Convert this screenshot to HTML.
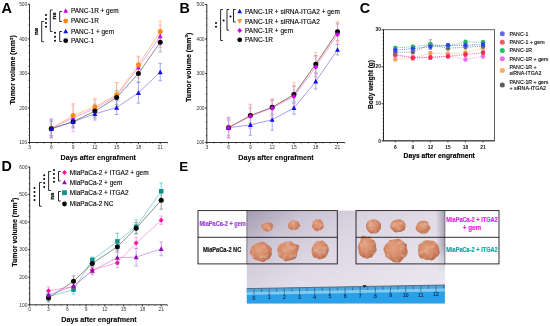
<!DOCTYPE html>
<html><head><meta charset="utf-8"><style>
html,body{margin:0;padding:0;width:550px;height:326px;overflow:hidden;background:#fff;}
svg text{font-family:"Liberation Sans", sans-serif;}
svg{will-change:transform;}
</style></head><body>
<svg width="550" height="326" viewBox="0 0 550 326" style="position:absolute;left:0;top:0;font-family:&quot;Liberation Sans&quot;, sans-serif">
<rect width="550" height="326" fill="#fff"/>
<text x="1.4" y="13" font-size="14.5" text-anchor="start" font-weight="bold" fill="#000" >A</text>
<text x="179.5" y="12.8" font-size="14.3" text-anchor="start" font-weight="bold" fill="#000" >B</text>
<text x="359.8" y="12.9" font-size="14.3" text-anchor="start" font-weight="bold" fill="#000" >C</text>
<text x="1.5" y="171.1" font-size="14.3" text-anchor="start" font-weight="bold" fill="#000" >D</text>
<text x="179.3" y="171.3" font-size="13.4" text-anchor="start" font-weight="bold" fill="#000" >E</text>
<line x1="29.5" y1="4.3" x2="29.5" y2="142.5" stroke="#1a1a1a" stroke-width="0.9" />
<line x1="29.5" y1="142.5" x2="167.5" y2="142.5" stroke="#1a1a1a" stroke-width="0.9" />
<line x1="27.7" y1="142.5" x2="29.5" y2="142.5" stroke="#1a1a1a" stroke-width="0.7" />
<text x="27.3" y="144.2" font-size="4.9" text-anchor="end" font-weight="normal" fill="#333" >100</text>
<line x1="27.7" y1="107.95" x2="29.5" y2="107.95" stroke="#1a1a1a" stroke-width="0.7" />
<text x="27.3" y="109.65" font-size="4.9" text-anchor="end" font-weight="normal" fill="#333" >200</text>
<line x1="27.7" y1="73.4" x2="29.5" y2="73.4" stroke="#1a1a1a" stroke-width="0.7" />
<text x="27.3" y="75.1" font-size="4.9" text-anchor="end" font-weight="normal" fill="#333" >300</text>
<line x1="27.7" y1="38.85" x2="29.5" y2="38.85" stroke="#1a1a1a" stroke-width="0.7" />
<text x="27.3" y="40.55" font-size="4.9" text-anchor="end" font-weight="normal" fill="#333" >400</text>
<line x1="27.7" y1="4.3" x2="29.5" y2="4.3" stroke="#1a1a1a" stroke-width="0.7" />
<text x="27.3" y="6" font-size="4.9" text-anchor="end" font-weight="normal" fill="#333" >500</text>
<line x1="28.5" y1="142.5" x2="29.8" y2="142.5" stroke="#1a1a1a" stroke-width="0.6" />
<line x1="28.5" y1="135.59" x2="29.8" y2="135.59" stroke="#1a1a1a" stroke-width="0.6" />
<line x1="28.5" y1="128.68" x2="29.8" y2="128.68" stroke="#1a1a1a" stroke-width="0.6" />
<line x1="28.5" y1="121.77" x2="29.8" y2="121.77" stroke="#1a1a1a" stroke-width="0.6" />
<line x1="28.5" y1="114.86" x2="29.8" y2="114.86" stroke="#1a1a1a" stroke-width="0.6" />
<line x1="28.5" y1="107.95" x2="29.8" y2="107.95" stroke="#1a1a1a" stroke-width="0.6" />
<line x1="28.5" y1="101.04" x2="29.8" y2="101.04" stroke="#1a1a1a" stroke-width="0.6" />
<line x1="28.5" y1="94.13" x2="29.8" y2="94.13" stroke="#1a1a1a" stroke-width="0.6" />
<line x1="28.5" y1="87.22" x2="29.8" y2="87.22" stroke="#1a1a1a" stroke-width="0.6" />
<line x1="28.5" y1="80.31" x2="29.8" y2="80.31" stroke="#1a1a1a" stroke-width="0.6" />
<line x1="28.5" y1="73.4" x2="29.8" y2="73.4" stroke="#1a1a1a" stroke-width="0.6" />
<line x1="28.5" y1="66.49" x2="29.8" y2="66.49" stroke="#1a1a1a" stroke-width="0.6" />
<line x1="28.5" y1="59.58" x2="29.8" y2="59.58" stroke="#1a1a1a" stroke-width="0.6" />
<line x1="28.5" y1="52.67" x2="29.8" y2="52.67" stroke="#1a1a1a" stroke-width="0.6" />
<line x1="28.5" y1="45.76" x2="29.8" y2="45.76" stroke="#1a1a1a" stroke-width="0.6" />
<line x1="28.5" y1="38.85" x2="29.8" y2="38.85" stroke="#1a1a1a" stroke-width="0.6" />
<line x1="28.5" y1="31.94" x2="29.8" y2="31.94" stroke="#1a1a1a" stroke-width="0.6" />
<line x1="28.5" y1="25.03" x2="29.8" y2="25.03" stroke="#1a1a1a" stroke-width="0.6" />
<line x1="28.5" y1="18.12" x2="29.8" y2="18.12" stroke="#1a1a1a" stroke-width="0.6" />
<line x1="28.5" y1="11.21" x2="29.8" y2="11.21" stroke="#1a1a1a" stroke-width="0.6" />
<line x1="28.5" y1="4.3" x2="29.8" y2="4.3" stroke="#1a1a1a" stroke-width="0.6" />
<line x1="29.5" y1="142.5" x2="29.5" y2="143.5" stroke="#1a1a1a" stroke-width="0.6" />
<line x1="36.76" y1="142.5" x2="36.76" y2="143.5" stroke="#1a1a1a" stroke-width="0.6" />
<line x1="44.03" y1="142.5" x2="44.03" y2="143.5" stroke="#1a1a1a" stroke-width="0.6" />
<line x1="51.29" y1="142.5" x2="51.29" y2="143.5" stroke="#1a1a1a" stroke-width="0.6" />
<line x1="58.55" y1="142.5" x2="58.55" y2="143.5" stroke="#1a1a1a" stroke-width="0.6" />
<line x1="65.81" y1="142.5" x2="65.81" y2="143.5" stroke="#1a1a1a" stroke-width="0.6" />
<line x1="73.08" y1="142.5" x2="73.08" y2="143.5" stroke="#1a1a1a" stroke-width="0.6" />
<line x1="80.34" y1="142.5" x2="80.34" y2="143.5" stroke="#1a1a1a" stroke-width="0.6" />
<line x1="87.6" y1="142.5" x2="87.6" y2="143.5" stroke="#1a1a1a" stroke-width="0.6" />
<line x1="94.87" y1="142.5" x2="94.87" y2="143.5" stroke="#1a1a1a" stroke-width="0.6" />
<line x1="102.13" y1="142.5" x2="102.13" y2="143.5" stroke="#1a1a1a" stroke-width="0.6" />
<line x1="109.39" y1="142.5" x2="109.39" y2="143.5" stroke="#1a1a1a" stroke-width="0.6" />
<line x1="116.66" y1="142.5" x2="116.66" y2="143.5" stroke="#1a1a1a" stroke-width="0.6" />
<line x1="123.92" y1="142.5" x2="123.92" y2="143.5" stroke="#1a1a1a" stroke-width="0.6" />
<line x1="131.18" y1="142.5" x2="131.18" y2="143.5" stroke="#1a1a1a" stroke-width="0.6" />
<line x1="138.44" y1="142.5" x2="138.44" y2="143.5" stroke="#1a1a1a" stroke-width="0.6" />
<line x1="145.71" y1="142.5" x2="145.71" y2="143.5" stroke="#1a1a1a" stroke-width="0.6" />
<line x1="152.97" y1="142.5" x2="152.97" y2="143.5" stroke="#1a1a1a" stroke-width="0.6" />
<line x1="160.23" y1="142.5" x2="160.23" y2="143.5" stroke="#1a1a1a" stroke-width="0.6" />
<line x1="167.5" y1="142.5" x2="167.5" y2="143.5" stroke="#1a1a1a" stroke-width="0.6" />
<line x1="29.5" y1="142.5" x2="29.5" y2="144.3" stroke="#1a1a1a" stroke-width="0.7" />
<text x="29.5" y="149.4" font-size="4.9" text-anchor="middle" font-weight="normal" fill="#333" >3</text>
<line x1="51.29" y1="142.5" x2="51.29" y2="144.3" stroke="#1a1a1a" stroke-width="0.7" />
<text x="51.29" y="149.4" font-size="4.9" text-anchor="middle" font-weight="normal" fill="#333" >6</text>
<line x1="73.08" y1="142.5" x2="73.08" y2="144.3" stroke="#1a1a1a" stroke-width="0.7" />
<text x="73.08" y="149.4" font-size="4.9" text-anchor="middle" font-weight="normal" fill="#333" >9</text>
<line x1="94.87" y1="142.5" x2="94.87" y2="144.3" stroke="#1a1a1a" stroke-width="0.7" />
<text x="94.87" y="149.4" font-size="4.9" text-anchor="middle" font-weight="normal" fill="#333" >12</text>
<line x1="116.66" y1="142.5" x2="116.66" y2="144.3" stroke="#1a1a1a" stroke-width="0.7" />
<text x="116.66" y="149.4" font-size="4.9" text-anchor="middle" font-weight="normal" fill="#333" >15</text>
<line x1="138.44" y1="142.5" x2="138.44" y2="144.3" stroke="#1a1a1a" stroke-width="0.7" />
<text x="138.44" y="149.4" font-size="4.9" text-anchor="middle" font-weight="normal" fill="#333" >18</text>
<line x1="160.23" y1="142.5" x2="160.23" y2="144.3" stroke="#1a1a1a" stroke-width="0.7" />
<text x="160.23" y="149.4" font-size="4.9" text-anchor="middle" font-weight="normal" fill="#333" >21</text>
<text x="98.3" y="159.5" font-size="7.15" text-anchor="middle" font-weight="bold" fill="#000" stroke="#000" stroke-width="0.08">Days after engrafment</text>
<text transform="translate(15.2,69.8) rotate(-90)" font-size="7" text-anchor="middle" font-weight="bold" fill="#000" stroke="#000" stroke-width="0.15">Tumor volume (mm<tspan font-size="4.34" dy="-2.6">3</tspan><tspan dy="2.6">)</tspan></text>
<polyline points="51.29,128.33 73.08,117.62 94.87,108.64 116.66,95.86 138.44,67.53 160.23,36.09" fill="none" stroke="#e070f0" stroke-width="0.6"/>
<polyline points="51.29,128.33 73.08,115.55 94.87,106.91 116.66,94.82 138.44,64.76 160.23,31.59" fill="none" stroke="#ffa040" stroke-width="0.6"/>
<polyline points="51.29,128.68 73.08,121.77 94.87,111.06 116.66,97.59 138.44,73.4 160.23,42.31" fill="none" stroke="#404040" stroke-width="0.6"/>
<polyline points="51.29,128.68 73.08,121.77 94.87,113.82 116.66,107.6 138.44,92.75 160.23,72.02" fill="none" stroke="#6060f0" stroke-width="0.6"/>
<line x1="51.29" y1="118.66" x2="51.29" y2="138.01" stroke="#f0a0f0" stroke-width="0.8" />
<line x1="49.49" y1="118.66" x2="53.09" y2="118.66" stroke="#f0a0f0" stroke-width="0.8" />
<line x1="49.49" y1="138.01" x2="53.09" y2="138.01" stroke="#f0a0f0" stroke-width="0.8" />
<line x1="73.08" y1="103.8" x2="73.08" y2="131.44" stroke="#f0a0f0" stroke-width="0.8" />
<line x1="71.28" y1="103.8" x2="74.88" y2="103.8" stroke="#f0a0f0" stroke-width="0.8" />
<line x1="71.28" y1="131.44" x2="74.88" y2="131.44" stroke="#f0a0f0" stroke-width="0.8" />
<line x1="94.87" y1="100" x2="94.87" y2="117.28" stroke="#f0a0f0" stroke-width="0.8" />
<line x1="93.07" y1="100" x2="96.67" y2="100" stroke="#f0a0f0" stroke-width="0.8" />
<line x1="93.07" y1="117.28" x2="96.67" y2="117.28" stroke="#f0a0f0" stroke-width="0.8" />
<line x1="116.66" y1="82.73" x2="116.66" y2="108.99" stroke="#f0a0f0" stroke-width="0.8" />
<line x1="114.86" y1="82.73" x2="118.46" y2="82.73" stroke="#f0a0f0" stroke-width="0.8" />
<line x1="114.86" y1="108.99" x2="118.46" y2="108.99" stroke="#f0a0f0" stroke-width="0.8" />
<line x1="138.44" y1="57.16" x2="138.44" y2="77.89" stroke="#f0a0f0" stroke-width="0.8" />
<line x1="136.64" y1="57.16" x2="140.25" y2="57.16" stroke="#f0a0f0" stroke-width="0.8" />
<line x1="136.64" y1="77.89" x2="140.25" y2="77.89" stroke="#f0a0f0" stroke-width="0.8" />
<line x1="160.23" y1="25.03" x2="160.23" y2="47.14" stroke="#f0a0f0" stroke-width="0.8" />
<line x1="158.43" y1="25.03" x2="162.03" y2="25.03" stroke="#f0a0f0" stroke-width="0.8" />
<line x1="158.43" y1="47.14" x2="162.03" y2="47.14" stroke="#f0a0f0" stroke-width="0.8" />
<line x1="51.29" y1="119.7" x2="51.29" y2="136.97" stroke="#ffc080" stroke-width="0.8" />
<line x1="49.49" y1="119.7" x2="53.09" y2="119.7" stroke="#ffc080" stroke-width="0.8" />
<line x1="49.49" y1="136.97" x2="53.09" y2="136.97" stroke="#ffc080" stroke-width="0.8" />
<line x1="73.08" y1="105.19" x2="73.08" y2="125.92" stroke="#ffc080" stroke-width="0.8" />
<line x1="71.28" y1="105.19" x2="74.88" y2="105.19" stroke="#ffc080" stroke-width="0.8" />
<line x1="71.28" y1="125.92" x2="74.88" y2="125.92" stroke="#ffc080" stroke-width="0.8" />
<line x1="94.87" y1="98.28" x2="94.87" y2="115.55" stroke="#ffc080" stroke-width="0.8" />
<line x1="93.07" y1="98.28" x2="96.67" y2="98.28" stroke="#ffc080" stroke-width="0.8" />
<line x1="93.07" y1="115.55" x2="96.67" y2="115.55" stroke="#ffc080" stroke-width="0.8" />
<line x1="116.66" y1="82.73" x2="116.66" y2="106.91" stroke="#ffc080" stroke-width="0.8" />
<line x1="114.86" y1="82.73" x2="118.46" y2="82.73" stroke="#ffc080" stroke-width="0.8" />
<line x1="114.86" y1="106.91" x2="118.46" y2="106.91" stroke="#ffc080" stroke-width="0.8" />
<line x1="138.44" y1="56.12" x2="138.44" y2="73.4" stroke="#ffc080" stroke-width="0.8" />
<line x1="136.64" y1="56.12" x2="140.25" y2="56.12" stroke="#ffc080" stroke-width="0.8" />
<line x1="136.64" y1="73.4" x2="140.25" y2="73.4" stroke="#ffc080" stroke-width="0.8" />
<line x1="160.23" y1="21.23" x2="160.23" y2="41.96" stroke="#ffc080" stroke-width="0.8" />
<line x1="158.43" y1="21.23" x2="162.03" y2="21.23" stroke="#ffc080" stroke-width="0.8" />
<line x1="158.43" y1="41.96" x2="162.03" y2="41.96" stroke="#ffc080" stroke-width="0.8" />
<line x1="51.29" y1="121.77" x2="51.29" y2="135.59" stroke="#a0a0a0" stroke-width="0.8" />
<line x1="49.49" y1="121.77" x2="53.09" y2="121.77" stroke="#a0a0a0" stroke-width="0.8" />
<line x1="49.49" y1="135.59" x2="53.09" y2="135.59" stroke="#a0a0a0" stroke-width="0.8" />
<line x1="73.08" y1="116.59" x2="73.08" y2="126.95" stroke="#a0a0a0" stroke-width="0.8" />
<line x1="71.28" y1="116.59" x2="74.88" y2="116.59" stroke="#a0a0a0" stroke-width="0.8" />
<line x1="71.28" y1="126.95" x2="74.88" y2="126.95" stroke="#a0a0a0" stroke-width="0.8" />
<line x1="94.87" y1="104.15" x2="94.87" y2="117.97" stroke="#a0a0a0" stroke-width="0.8" />
<line x1="93.07" y1="104.15" x2="96.67" y2="104.15" stroke="#a0a0a0" stroke-width="0.8" />
<line x1="93.07" y1="117.97" x2="96.67" y2="117.97" stroke="#a0a0a0" stroke-width="0.8" />
<line x1="116.66" y1="90.68" x2="116.66" y2="104.5" stroke="#a0a0a0" stroke-width="0.8" />
<line x1="114.86" y1="90.68" x2="118.46" y2="90.68" stroke="#a0a0a0" stroke-width="0.8" />
<line x1="114.86" y1="104.5" x2="118.46" y2="104.5" stroke="#a0a0a0" stroke-width="0.8" />
<line x1="138.44" y1="64.76" x2="138.44" y2="82.04" stroke="#a0a0a0" stroke-width="0.8" />
<line x1="136.64" y1="64.76" x2="140.25" y2="64.76" stroke="#a0a0a0" stroke-width="0.8" />
<line x1="136.64" y1="82.04" x2="140.25" y2="82.04" stroke="#a0a0a0" stroke-width="0.8" />
<line x1="160.23" y1="32.63" x2="160.23" y2="51.98" stroke="#a0a0a0" stroke-width="0.8" />
<line x1="158.43" y1="32.63" x2="162.03" y2="32.63" stroke="#a0a0a0" stroke-width="0.8" />
<line x1="158.43" y1="51.98" x2="162.03" y2="51.98" stroke="#a0a0a0" stroke-width="0.8" />
<line x1="51.29" y1="120.04" x2="51.29" y2="137.32" stroke="#9090f0" stroke-width="0.8" />
<line x1="49.49" y1="120.04" x2="53.09" y2="120.04" stroke="#9090f0" stroke-width="0.8" />
<line x1="49.49" y1="137.32" x2="53.09" y2="137.32" stroke="#9090f0" stroke-width="0.8" />
<line x1="73.08" y1="115.55" x2="73.08" y2="127.99" stroke="#9090f0" stroke-width="0.8" />
<line x1="71.28" y1="115.55" x2="74.88" y2="115.55" stroke="#9090f0" stroke-width="0.8" />
<line x1="71.28" y1="127.99" x2="74.88" y2="127.99" stroke="#9090f0" stroke-width="0.8" />
<line x1="94.87" y1="107.6" x2="94.87" y2="120.04" stroke="#9090f0" stroke-width="0.8" />
<line x1="93.07" y1="107.6" x2="96.67" y2="107.6" stroke="#9090f0" stroke-width="0.8" />
<line x1="93.07" y1="120.04" x2="96.67" y2="120.04" stroke="#9090f0" stroke-width="0.8" />
<line x1="116.66" y1="100.69" x2="116.66" y2="114.51" stroke="#9090f0" stroke-width="0.8" />
<line x1="114.86" y1="100.69" x2="118.46" y2="100.69" stroke="#9090f0" stroke-width="0.8" />
<line x1="114.86" y1="114.51" x2="118.46" y2="114.51" stroke="#9090f0" stroke-width="0.8" />
<line x1="138.44" y1="82.38" x2="138.44" y2="103.11" stroke="#9090f0" stroke-width="0.8" />
<line x1="136.64" y1="82.38" x2="140.25" y2="82.38" stroke="#9090f0" stroke-width="0.8" />
<line x1="136.64" y1="103.11" x2="140.25" y2="103.11" stroke="#9090f0" stroke-width="0.8" />
<line x1="160.23" y1="63.38" x2="160.23" y2="80.66" stroke="#9090f0" stroke-width="0.8" />
<line x1="158.43" y1="63.38" x2="162.03" y2="63.38" stroke="#9090f0" stroke-width="0.8" />
<line x1="158.43" y1="80.66" x2="162.03" y2="80.66" stroke="#9090f0" stroke-width="0.8" />
<polygon points="51.29,125.83 53.69,130.39 48.89,130.39" fill="#cc00ee"/>
<polygon points="73.08,115.12 75.48,119.68 70.68,119.68" fill="#cc00ee"/>
<polygon points="94.87,106.13 97.27,110.69 92.47,110.69" fill="#cc00ee"/>
<polygon points="116.66,93.35 119.06,97.91 114.26,97.91" fill="#cc00ee"/>
<polygon points="138.44,65.02 140.84,69.58 136.04,69.58" fill="#cc00ee"/>
<polygon points="160.23,33.58 162.63,38.14 157.83,38.14" fill="#cc00ee"/>
<circle cx="51.29" cy="128.33" r="2.5" fill="#ff8a10"/>
<circle cx="73.08" cy="115.55" r="2.5" fill="#ff8a10"/>
<circle cx="94.87" cy="106.91" r="2.5" fill="#ff8a10"/>
<circle cx="116.66" cy="94.82" r="2.5" fill="#ff8a10"/>
<circle cx="138.44" cy="64.76" r="2.5" fill="#ff8a10"/>
<circle cx="160.23" cy="31.59" r="2.5" fill="#ff8a10"/>
<circle cx="51.29" cy="128.68" r="2.5" fill="#080808"/>
<circle cx="73.08" cy="121.77" r="2.5" fill="#080808"/>
<circle cx="94.87" cy="111.06" r="2.5" fill="#080808"/>
<circle cx="116.66" cy="97.59" r="2.5" fill="#080808"/>
<circle cx="138.44" cy="73.4" r="2.5" fill="#080808"/>
<circle cx="160.23" cy="42.31" r="2.5" fill="#080808"/>
<polygon points="51.29,126.07 53.79,130.82 48.79,130.82" fill="#1010ee"/>
<polygon points="73.08,119.16 75.58,123.91 70.58,123.91" fill="#1010ee"/>
<polygon points="94.87,111.21 97.37,115.96 92.37,115.96" fill="#1010ee"/>
<polygon points="116.66,104.99 119.16,109.74 114.16,109.74" fill="#1010ee"/>
<polygon points="138.44,90.14 140.94,94.89 135.94,94.89" fill="#1010ee"/>
<polygon points="160.23,69.41 162.73,74.16 157.73,74.16" fill="#1010ee"/>
<line x1="206.8" y1="4.5" x2="206.8" y2="142.5" stroke="#1a1a1a" stroke-width="0.9" />
<line x1="206.8" y1="142.5" x2="344.8" y2="142.5" stroke="#1a1a1a" stroke-width="0.9" />
<line x1="205" y1="142.5" x2="206.8" y2="142.5" stroke="#1a1a1a" stroke-width="0.7" />
<text x="204.6" y="144.2" font-size="4.9" text-anchor="end" font-weight="normal" fill="#333" >100</text>
<line x1="205" y1="108" x2="206.8" y2="108" stroke="#1a1a1a" stroke-width="0.7" />
<text x="204.6" y="109.7" font-size="4.9" text-anchor="end" font-weight="normal" fill="#333" >200</text>
<line x1="205" y1="73.5" x2="206.8" y2="73.5" stroke="#1a1a1a" stroke-width="0.7" />
<text x="204.6" y="75.2" font-size="4.9" text-anchor="end" font-weight="normal" fill="#333" >300</text>
<line x1="205" y1="39" x2="206.8" y2="39" stroke="#1a1a1a" stroke-width="0.7" />
<text x="204.6" y="40.7" font-size="4.9" text-anchor="end" font-weight="normal" fill="#333" >400</text>
<line x1="205" y1="4.5" x2="206.8" y2="4.5" stroke="#1a1a1a" stroke-width="0.7" />
<text x="204.6" y="6.2" font-size="4.9" text-anchor="end" font-weight="normal" fill="#333" >500</text>
<line x1="205.8" y1="142.5" x2="207.1" y2="142.5" stroke="#1a1a1a" stroke-width="0.6" />
<line x1="205.8" y1="135.6" x2="207.1" y2="135.6" stroke="#1a1a1a" stroke-width="0.6" />
<line x1="205.8" y1="128.7" x2="207.1" y2="128.7" stroke="#1a1a1a" stroke-width="0.6" />
<line x1="205.8" y1="121.8" x2="207.1" y2="121.8" stroke="#1a1a1a" stroke-width="0.6" />
<line x1="205.8" y1="114.9" x2="207.1" y2="114.9" stroke="#1a1a1a" stroke-width="0.6" />
<line x1="205.8" y1="108" x2="207.1" y2="108" stroke="#1a1a1a" stroke-width="0.6" />
<line x1="205.8" y1="101.1" x2="207.1" y2="101.1" stroke="#1a1a1a" stroke-width="0.6" />
<line x1="205.8" y1="94.2" x2="207.1" y2="94.2" stroke="#1a1a1a" stroke-width="0.6" />
<line x1="205.8" y1="87.3" x2="207.1" y2="87.3" stroke="#1a1a1a" stroke-width="0.6" />
<line x1="205.8" y1="80.4" x2="207.1" y2="80.4" stroke="#1a1a1a" stroke-width="0.6" />
<line x1="205.8" y1="73.5" x2="207.1" y2="73.5" stroke="#1a1a1a" stroke-width="0.6" />
<line x1="205.8" y1="66.6" x2="207.1" y2="66.6" stroke="#1a1a1a" stroke-width="0.6" />
<line x1="205.8" y1="59.7" x2="207.1" y2="59.7" stroke="#1a1a1a" stroke-width="0.6" />
<line x1="205.8" y1="52.8" x2="207.1" y2="52.8" stroke="#1a1a1a" stroke-width="0.6" />
<line x1="205.8" y1="45.9" x2="207.1" y2="45.9" stroke="#1a1a1a" stroke-width="0.6" />
<line x1="205.8" y1="39" x2="207.1" y2="39" stroke="#1a1a1a" stroke-width="0.6" />
<line x1="205.8" y1="32.1" x2="207.1" y2="32.1" stroke="#1a1a1a" stroke-width="0.6" />
<line x1="205.8" y1="25.2" x2="207.1" y2="25.2" stroke="#1a1a1a" stroke-width="0.6" />
<line x1="205.8" y1="18.3" x2="207.1" y2="18.3" stroke="#1a1a1a" stroke-width="0.6" />
<line x1="205.8" y1="11.4" x2="207.1" y2="11.4" stroke="#1a1a1a" stroke-width="0.6" />
<line x1="205.8" y1="4.5" x2="207.1" y2="4.5" stroke="#1a1a1a" stroke-width="0.6" />
<line x1="206.8" y1="142.5" x2="206.8" y2="143.5" stroke="#1a1a1a" stroke-width="0.6" />
<line x1="214.06" y1="142.5" x2="214.06" y2="143.5" stroke="#1a1a1a" stroke-width="0.6" />
<line x1="221.33" y1="142.5" x2="221.33" y2="143.5" stroke="#1a1a1a" stroke-width="0.6" />
<line x1="228.59" y1="142.5" x2="228.59" y2="143.5" stroke="#1a1a1a" stroke-width="0.6" />
<line x1="235.85" y1="142.5" x2="235.85" y2="143.5" stroke="#1a1a1a" stroke-width="0.6" />
<line x1="243.12" y1="142.5" x2="243.12" y2="143.5" stroke="#1a1a1a" stroke-width="0.6" />
<line x1="250.38" y1="142.5" x2="250.38" y2="143.5" stroke="#1a1a1a" stroke-width="0.6" />
<line x1="257.64" y1="142.5" x2="257.64" y2="143.5" stroke="#1a1a1a" stroke-width="0.6" />
<line x1="264.9" y1="142.5" x2="264.9" y2="143.5" stroke="#1a1a1a" stroke-width="0.6" />
<line x1="272.17" y1="142.5" x2="272.17" y2="143.5" stroke="#1a1a1a" stroke-width="0.6" />
<line x1="279.43" y1="142.5" x2="279.43" y2="143.5" stroke="#1a1a1a" stroke-width="0.6" />
<line x1="286.69" y1="142.5" x2="286.69" y2="143.5" stroke="#1a1a1a" stroke-width="0.6" />
<line x1="293.96" y1="142.5" x2="293.96" y2="143.5" stroke="#1a1a1a" stroke-width="0.6" />
<line x1="301.22" y1="142.5" x2="301.22" y2="143.5" stroke="#1a1a1a" stroke-width="0.6" />
<line x1="308.48" y1="142.5" x2="308.48" y2="143.5" stroke="#1a1a1a" stroke-width="0.6" />
<line x1="315.75" y1="142.5" x2="315.75" y2="143.5" stroke="#1a1a1a" stroke-width="0.6" />
<line x1="323.01" y1="142.5" x2="323.01" y2="143.5" stroke="#1a1a1a" stroke-width="0.6" />
<line x1="330.27" y1="142.5" x2="330.27" y2="143.5" stroke="#1a1a1a" stroke-width="0.6" />
<line x1="337.53" y1="142.5" x2="337.53" y2="143.5" stroke="#1a1a1a" stroke-width="0.6" />
<line x1="344.8" y1="142.5" x2="344.8" y2="143.5" stroke="#1a1a1a" stroke-width="0.6" />
<line x1="206.8" y1="142.5" x2="206.8" y2="144.3" stroke="#1a1a1a" stroke-width="0.7" />
<text x="206.8" y="149.4" font-size="4.9" text-anchor="middle" font-weight="normal" fill="#333" >3</text>
<line x1="228.59" y1="142.5" x2="228.59" y2="144.3" stroke="#1a1a1a" stroke-width="0.7" />
<text x="228.59" y="149.4" font-size="4.9" text-anchor="middle" font-weight="normal" fill="#333" >6</text>
<line x1="250.38" y1="142.5" x2="250.38" y2="144.3" stroke="#1a1a1a" stroke-width="0.7" />
<text x="250.38" y="149.4" font-size="4.9" text-anchor="middle" font-weight="normal" fill="#333" >9</text>
<line x1="272.17" y1="142.5" x2="272.17" y2="144.3" stroke="#1a1a1a" stroke-width="0.7" />
<text x="272.17" y="149.4" font-size="4.9" text-anchor="middle" font-weight="normal" fill="#333" >12</text>
<line x1="293.96" y1="142.5" x2="293.96" y2="144.3" stroke="#1a1a1a" stroke-width="0.7" />
<text x="293.96" y="149.4" font-size="4.9" text-anchor="middle" font-weight="normal" fill="#333" >15</text>
<line x1="315.75" y1="142.5" x2="315.75" y2="144.3" stroke="#1a1a1a" stroke-width="0.7" />
<text x="315.75" y="149.4" font-size="4.9" text-anchor="middle" font-weight="normal" fill="#333" >18</text>
<line x1="337.53" y1="142.5" x2="337.53" y2="144.3" stroke="#1a1a1a" stroke-width="0.7" />
<text x="337.53" y="149.4" font-size="4.9" text-anchor="middle" font-weight="normal" fill="#333" >21</text>
<text x="276" y="159.5" font-size="7.15" text-anchor="middle" font-weight="bold" fill="#000" stroke="#000" stroke-width="0.08">Days after engrafment</text>
<text transform="translate(191,67.3) rotate(-90)" font-size="7" text-anchor="middle" font-weight="bold" fill="#000" stroke="#000" stroke-width="0.15">Tumor volume (mm<tspan font-size="4.34" dy="-2.6">3</tspan><tspan dy="2.6">)</tspan></text>
<polyline points="228.59,127.67 250.38,115.59 272.17,107.31 293.96,94.89 315.75,64.19 337.53,31.76" fill="none" stroke="#ffa040" stroke-width="0.6"/>
<polyline points="228.59,127.67 250.38,115.59 272.17,107.31 293.96,94.55 315.75,64.19 337.53,31.76" fill="none" stroke="#404040" stroke-width="0.6"/>
<polyline points="228.59,127.67 250.38,124.91 272.17,119.73 293.96,108 315.75,81.44 337.53,49.7" fill="none" stroke="#6060f0" stroke-width="0.6"/>
<polyline points="228.59,127.67 250.38,116.28 272.17,108 293.96,96.62 315.75,66.95 337.53,34.52" fill="none" stroke="#e070f0" stroke-width="0.6"/>
<line x1="228.59" y1="119.04" x2="228.59" y2="136.29" stroke="#ffc080" stroke-width="0.8" />
<line x1="226.79" y1="119.04" x2="230.39" y2="119.04" stroke="#ffc080" stroke-width="0.8" />
<line x1="226.79" y1="136.29" x2="230.39" y2="136.29" stroke="#ffc080" stroke-width="0.8" />
<line x1="250.38" y1="105.24" x2="250.38" y2="125.94" stroke="#ffc080" stroke-width="0.8" />
<line x1="248.58" y1="105.24" x2="252.18" y2="105.24" stroke="#ffc080" stroke-width="0.8" />
<line x1="248.58" y1="125.94" x2="252.18" y2="125.94" stroke="#ffc080" stroke-width="0.8" />
<line x1="272.17" y1="98.69" x2="272.17" y2="115.94" stroke="#ffc080" stroke-width="0.8" />
<line x1="270.37" y1="98.69" x2="273.97" y2="98.69" stroke="#ffc080" stroke-width="0.8" />
<line x1="270.37" y1="115.94" x2="273.97" y2="115.94" stroke="#ffc080" stroke-width="0.8" />
<line x1="293.96" y1="82.81" x2="293.96" y2="106.97" stroke="#ffc080" stroke-width="0.8" />
<line x1="292.16" y1="82.81" x2="295.76" y2="82.81" stroke="#ffc080" stroke-width="0.8" />
<line x1="292.16" y1="106.97" x2="295.76" y2="106.97" stroke="#ffc080" stroke-width="0.8" />
<line x1="315.75" y1="52.11" x2="315.75" y2="76.26" stroke="#ffc080" stroke-width="0.8" />
<line x1="313.94" y1="52.11" x2="317.55" y2="52.11" stroke="#ffc080" stroke-width="0.8" />
<line x1="313.94" y1="76.26" x2="317.55" y2="76.26" stroke="#ffc080" stroke-width="0.8" />
<line x1="337.53" y1="21.41" x2="337.53" y2="42.11" stroke="#ffc080" stroke-width="0.8" />
<line x1="335.73" y1="21.41" x2="339.33" y2="21.41" stroke="#ffc080" stroke-width="0.8" />
<line x1="335.73" y1="42.11" x2="339.33" y2="42.11" stroke="#ffc080" stroke-width="0.8" />
<line x1="228.59" y1="120.08" x2="228.59" y2="135.25" stroke="#a0a0a0" stroke-width="0.8" />
<line x1="226.79" y1="120.08" x2="230.39" y2="120.08" stroke="#a0a0a0" stroke-width="0.8" />
<line x1="226.79" y1="135.25" x2="230.39" y2="135.25" stroke="#a0a0a0" stroke-width="0.8" />
<line x1="250.38" y1="108" x2="250.38" y2="123.18" stroke="#a0a0a0" stroke-width="0.8" />
<line x1="248.58" y1="108" x2="252.18" y2="108" stroke="#a0a0a0" stroke-width="0.8" />
<line x1="248.58" y1="123.18" x2="252.18" y2="123.18" stroke="#a0a0a0" stroke-width="0.8" />
<line x1="272.17" y1="100.41" x2="272.17" y2="114.21" stroke="#a0a0a0" stroke-width="0.8" />
<line x1="270.37" y1="100.41" x2="273.97" y2="100.41" stroke="#a0a0a0" stroke-width="0.8" />
<line x1="270.37" y1="114.21" x2="273.97" y2="114.21" stroke="#a0a0a0" stroke-width="0.8" />
<line x1="293.96" y1="85.92" x2="293.96" y2="103.17" stroke="#a0a0a0" stroke-width="0.8" />
<line x1="292.16" y1="85.92" x2="295.76" y2="85.92" stroke="#a0a0a0" stroke-width="0.8" />
<line x1="292.16" y1="103.17" x2="295.76" y2="103.17" stroke="#a0a0a0" stroke-width="0.8" />
<line x1="315.75" y1="55.56" x2="315.75" y2="72.81" stroke="#a0a0a0" stroke-width="0.8" />
<line x1="313.94" y1="55.56" x2="317.55" y2="55.56" stroke="#a0a0a0" stroke-width="0.8" />
<line x1="313.94" y1="72.81" x2="317.55" y2="72.81" stroke="#a0a0a0" stroke-width="0.8" />
<line x1="337.53" y1="23.13" x2="337.53" y2="40.38" stroke="#a0a0a0" stroke-width="0.8" />
<line x1="335.73" y1="23.13" x2="339.33" y2="23.13" stroke="#a0a0a0" stroke-width="0.8" />
<line x1="335.73" y1="40.38" x2="339.33" y2="40.38" stroke="#a0a0a0" stroke-width="0.8" />
<line x1="228.59" y1="117.31" x2="228.59" y2="138.01" stroke="#9090f0" stroke-width="0.8" />
<line x1="226.79" y1="117.31" x2="230.39" y2="117.31" stroke="#9090f0" stroke-width="0.8" />
<line x1="226.79" y1="138.01" x2="230.39" y2="138.01" stroke="#9090f0" stroke-width="0.8" />
<line x1="250.38" y1="114.56" x2="250.38" y2="135.25" stroke="#9090f0" stroke-width="0.8" />
<line x1="248.58" y1="114.56" x2="252.18" y2="114.56" stroke="#9090f0" stroke-width="0.8" />
<line x1="248.58" y1="135.25" x2="252.18" y2="135.25" stroke="#9090f0" stroke-width="0.8" />
<line x1="272.17" y1="109.38" x2="272.17" y2="130.08" stroke="#9090f0" stroke-width="0.8" />
<line x1="270.37" y1="109.38" x2="273.97" y2="109.38" stroke="#9090f0" stroke-width="0.8" />
<line x1="270.37" y1="130.08" x2="273.97" y2="130.08" stroke="#9090f0" stroke-width="0.8" />
<line x1="293.96" y1="101.79" x2="293.96" y2="114.21" stroke="#9090f0" stroke-width="0.8" />
<line x1="292.16" y1="101.79" x2="295.76" y2="101.79" stroke="#9090f0" stroke-width="0.8" />
<line x1="292.16" y1="114.21" x2="295.76" y2="114.21" stroke="#9090f0" stroke-width="0.8" />
<line x1="315.75" y1="73.84" x2="315.75" y2="89.03" stroke="#9090f0" stroke-width="0.8" />
<line x1="313.94" y1="73.84" x2="317.55" y2="73.84" stroke="#9090f0" stroke-width="0.8" />
<line x1="313.94" y1="89.03" x2="317.55" y2="89.03" stroke="#9090f0" stroke-width="0.8" />
<line x1="337.53" y1="44.52" x2="337.53" y2="54.87" stroke="#9090f0" stroke-width="0.8" />
<line x1="335.73" y1="44.52" x2="339.33" y2="44.52" stroke="#9090f0" stroke-width="0.8" />
<line x1="335.73" y1="54.87" x2="339.33" y2="54.87" stroke="#9090f0" stroke-width="0.8" />
<line x1="228.59" y1="118" x2="228.59" y2="137.32" stroke="#f0a0f0" stroke-width="0.8" />
<line x1="226.79" y1="118" x2="230.39" y2="118" stroke="#f0a0f0" stroke-width="0.8" />
<line x1="226.79" y1="137.32" x2="230.39" y2="137.32" stroke="#f0a0f0" stroke-width="0.8" />
<line x1="250.38" y1="104.21" x2="250.38" y2="128.35" stroke="#f0a0f0" stroke-width="0.8" />
<line x1="248.58" y1="104.21" x2="252.18" y2="104.21" stroke="#f0a0f0" stroke-width="0.8" />
<line x1="248.58" y1="128.35" x2="252.18" y2="128.35" stroke="#f0a0f0" stroke-width="0.8" />
<line x1="272.17" y1="99.38" x2="272.17" y2="116.62" stroke="#f0a0f0" stroke-width="0.8" />
<line x1="270.37" y1="99.38" x2="273.97" y2="99.38" stroke="#f0a0f0" stroke-width="0.8" />
<line x1="270.37" y1="116.62" x2="273.97" y2="116.62" stroke="#f0a0f0" stroke-width="0.8" />
<line x1="293.96" y1="86.27" x2="293.96" y2="106.97" stroke="#f0a0f0" stroke-width="0.8" />
<line x1="292.16" y1="86.27" x2="295.76" y2="86.27" stroke="#f0a0f0" stroke-width="0.8" />
<line x1="292.16" y1="106.97" x2="295.76" y2="106.97" stroke="#f0a0f0" stroke-width="0.8" />
<line x1="315.75" y1="56.6" x2="315.75" y2="77.3" stroke="#f0a0f0" stroke-width="0.8" />
<line x1="313.94" y1="56.6" x2="317.55" y2="56.6" stroke="#f0a0f0" stroke-width="0.8" />
<line x1="313.94" y1="77.3" x2="317.55" y2="77.3" stroke="#f0a0f0" stroke-width="0.8" />
<line x1="337.53" y1="24.86" x2="337.53" y2="44.18" stroke="#f0a0f0" stroke-width="0.8" />
<line x1="335.73" y1="24.86" x2="339.33" y2="24.86" stroke="#f0a0f0" stroke-width="0.8" />
<line x1="335.73" y1="44.18" x2="339.33" y2="44.18" stroke="#f0a0f0" stroke-width="0.8" />
<polygon points="228.59,130.23 231.04,125.57 226.14,125.57" fill="#ff8a10"/>
<polygon points="250.38,118.15 252.83,113.5 247.93,113.5" fill="#ff8a10"/>
<polygon points="272.17,109.87 274.62,105.22 269.72,105.22" fill="#ff8a10"/>
<polygon points="293.96,97.45 296.41,92.8 291.51,92.8" fill="#ff8a10"/>
<polygon points="315.75,66.75 318.19,62.09 313.3,62.09" fill="#ff8a10"/>
<polygon points="337.53,34.32 339.98,29.66 335.08,29.66" fill="#ff8a10"/>
<circle cx="228.59" cy="127.67" r="2.5" fill="#080808"/>
<circle cx="250.38" cy="115.59" r="2.5" fill="#080808"/>
<circle cx="272.17" cy="107.31" r="2.5" fill="#080808"/>
<circle cx="293.96" cy="94.55" r="2.5" fill="#080808"/>
<circle cx="315.75" cy="64.19" r="2.5" fill="#080808"/>
<circle cx="337.53" cy="31.76" r="2.5" fill="#080808"/>
<polygon points="228.59,125.1 231.04,129.76 226.14,129.76" fill="#1010ee"/>
<polygon points="250.38,122.34 252.83,127 247.93,127" fill="#1010ee"/>
<polygon points="272.17,117.17 274.62,121.82 269.72,121.82" fill="#1010ee"/>
<polygon points="293.96,105.44 296.41,110.09 291.51,110.09" fill="#1010ee"/>
<polygon points="315.75,78.87 318.19,83.53 313.3,83.53" fill="#1010ee"/>
<polygon points="337.53,47.13 339.98,51.79 335.08,51.79" fill="#1010ee"/>
<polygon points="228.59,125.17 231.09,127.67 228.59,130.17 226.09,127.67" fill="#cc00ee"/>
<polygon points="250.38,113.78 252.88,116.28 250.38,118.78 247.88,116.28" fill="#cc00ee"/>
<polygon points="272.17,105.5 274.67,108 272.17,110.5 269.67,108" fill="#cc00ee"/>
<polygon points="293.96,94.12 296.46,96.62 293.96,99.12 291.46,96.62" fill="#cc00ee"/>
<polygon points="315.75,64.45 318.25,66.95 315.75,69.45 313.25,66.95" fill="#cc00ee"/>
<polygon points="337.53,32.02 340.03,34.52 337.53,37.02 335.03,34.52" fill="#cc00ee"/>
<line x1="29.7" y1="167" x2="29.7" y2="304.8" stroke="#1a1a1a" stroke-width="0.9" />
<line x1="29.7" y1="304.8" x2="167.46" y2="304.8" stroke="#1a1a1a" stroke-width="0.9" />
<line x1="27.9" y1="304.8" x2="29.7" y2="304.8" stroke="#1a1a1a" stroke-width="0.7" />
<text x="27.5" y="306.5" font-size="4.9" text-anchor="end" font-weight="normal" fill="#333" >100</text>
<line x1="27.9" y1="277.24" x2="29.7" y2="277.24" stroke="#1a1a1a" stroke-width="0.7" />
<text x="27.5" y="278.94" font-size="4.9" text-anchor="end" font-weight="normal" fill="#333" >200</text>
<line x1="27.9" y1="249.68" x2="29.7" y2="249.68" stroke="#1a1a1a" stroke-width="0.7" />
<text x="27.5" y="251.38" font-size="4.9" text-anchor="end" font-weight="normal" fill="#333" >300</text>
<line x1="27.9" y1="222.12" x2="29.7" y2="222.12" stroke="#1a1a1a" stroke-width="0.7" />
<text x="27.5" y="223.82" font-size="4.9" text-anchor="end" font-weight="normal" fill="#333" >400</text>
<line x1="27.9" y1="194.56" x2="29.7" y2="194.56" stroke="#1a1a1a" stroke-width="0.7" />
<text x="27.5" y="196.26" font-size="4.9" text-anchor="end" font-weight="normal" fill="#333" >500</text>
<line x1="27.9" y1="167" x2="29.7" y2="167" stroke="#1a1a1a" stroke-width="0.7" />
<text x="27.5" y="168.7" font-size="4.9" text-anchor="end" font-weight="normal" fill="#333" >600</text>
<line x1="28.7" y1="304.8" x2="30" y2="304.8" stroke="#1a1a1a" stroke-width="0.6" />
<line x1="28.7" y1="299.29" x2="30" y2="299.29" stroke="#1a1a1a" stroke-width="0.6" />
<line x1="28.7" y1="293.78" x2="30" y2="293.78" stroke="#1a1a1a" stroke-width="0.6" />
<line x1="28.7" y1="288.26" x2="30" y2="288.26" stroke="#1a1a1a" stroke-width="0.6" />
<line x1="28.7" y1="282.75" x2="30" y2="282.75" stroke="#1a1a1a" stroke-width="0.6" />
<line x1="28.7" y1="277.24" x2="30" y2="277.24" stroke="#1a1a1a" stroke-width="0.6" />
<line x1="28.7" y1="271.73" x2="30" y2="271.73" stroke="#1a1a1a" stroke-width="0.6" />
<line x1="28.7" y1="266.22" x2="30" y2="266.22" stroke="#1a1a1a" stroke-width="0.6" />
<line x1="28.7" y1="260.7" x2="30" y2="260.7" stroke="#1a1a1a" stroke-width="0.6" />
<line x1="28.7" y1="255.19" x2="30" y2="255.19" stroke="#1a1a1a" stroke-width="0.6" />
<line x1="28.7" y1="249.68" x2="30" y2="249.68" stroke="#1a1a1a" stroke-width="0.6" />
<line x1="28.7" y1="244.17" x2="30" y2="244.17" stroke="#1a1a1a" stroke-width="0.6" />
<line x1="28.7" y1="238.66" x2="30" y2="238.66" stroke="#1a1a1a" stroke-width="0.6" />
<line x1="28.7" y1="233.14" x2="30" y2="233.14" stroke="#1a1a1a" stroke-width="0.6" />
<line x1="28.7" y1="227.63" x2="30" y2="227.63" stroke="#1a1a1a" stroke-width="0.6" />
<line x1="28.7" y1="222.12" x2="30" y2="222.12" stroke="#1a1a1a" stroke-width="0.6" />
<line x1="28.7" y1="216.61" x2="30" y2="216.61" stroke="#1a1a1a" stroke-width="0.6" />
<line x1="28.7" y1="211.1" x2="30" y2="211.1" stroke="#1a1a1a" stroke-width="0.6" />
<line x1="28.7" y1="205.58" x2="30" y2="205.58" stroke="#1a1a1a" stroke-width="0.6" />
<line x1="28.7" y1="200.07" x2="30" y2="200.07" stroke="#1a1a1a" stroke-width="0.6" />
<line x1="28.7" y1="194.56" x2="30" y2="194.56" stroke="#1a1a1a" stroke-width="0.6" />
<line x1="28.7" y1="189.05" x2="30" y2="189.05" stroke="#1a1a1a" stroke-width="0.6" />
<line x1="28.7" y1="183.54" x2="30" y2="183.54" stroke="#1a1a1a" stroke-width="0.6" />
<line x1="28.7" y1="178.02" x2="30" y2="178.02" stroke="#1a1a1a" stroke-width="0.6" />
<line x1="28.7" y1="172.51" x2="30" y2="172.51" stroke="#1a1a1a" stroke-width="0.6" />
<line x1="28.7" y1="167" x2="30" y2="167" stroke="#1a1a1a" stroke-width="0.6" />
<line x1="29.7" y1="304.8" x2="29.7" y2="305.8" stroke="#1a1a1a" stroke-width="0.6" />
<line x1="35.96" y1="304.8" x2="35.96" y2="305.8" stroke="#1a1a1a" stroke-width="0.6" />
<line x1="42.22" y1="304.8" x2="42.22" y2="305.8" stroke="#1a1a1a" stroke-width="0.6" />
<line x1="48.49" y1="304.8" x2="48.49" y2="305.8" stroke="#1a1a1a" stroke-width="0.6" />
<line x1="54.75" y1="304.8" x2="54.75" y2="305.8" stroke="#1a1a1a" stroke-width="0.6" />
<line x1="61.01" y1="304.8" x2="61.01" y2="305.8" stroke="#1a1a1a" stroke-width="0.6" />
<line x1="67.27" y1="304.8" x2="67.27" y2="305.8" stroke="#1a1a1a" stroke-width="0.6" />
<line x1="73.53" y1="304.8" x2="73.53" y2="305.8" stroke="#1a1a1a" stroke-width="0.6" />
<line x1="79.8" y1="304.8" x2="79.8" y2="305.8" stroke="#1a1a1a" stroke-width="0.6" />
<line x1="86.06" y1="304.8" x2="86.06" y2="305.8" stroke="#1a1a1a" stroke-width="0.6" />
<line x1="92.32" y1="304.8" x2="92.32" y2="305.8" stroke="#1a1a1a" stroke-width="0.6" />
<line x1="98.58" y1="304.8" x2="98.58" y2="305.8" stroke="#1a1a1a" stroke-width="0.6" />
<line x1="104.84" y1="304.8" x2="104.84" y2="305.8" stroke="#1a1a1a" stroke-width="0.6" />
<line x1="111.11" y1="304.8" x2="111.11" y2="305.8" stroke="#1a1a1a" stroke-width="0.6" />
<line x1="117.37" y1="304.8" x2="117.37" y2="305.8" stroke="#1a1a1a" stroke-width="0.6" />
<line x1="123.63" y1="304.8" x2="123.63" y2="305.8" stroke="#1a1a1a" stroke-width="0.6" />
<line x1="129.89" y1="304.8" x2="129.89" y2="305.8" stroke="#1a1a1a" stroke-width="0.6" />
<line x1="136.15" y1="304.8" x2="136.15" y2="305.8" stroke="#1a1a1a" stroke-width="0.6" />
<line x1="142.42" y1="304.8" x2="142.42" y2="305.8" stroke="#1a1a1a" stroke-width="0.6" />
<line x1="148.68" y1="304.8" x2="148.68" y2="305.8" stroke="#1a1a1a" stroke-width="0.6" />
<line x1="154.94" y1="304.8" x2="154.94" y2="305.8" stroke="#1a1a1a" stroke-width="0.6" />
<line x1="161.2" y1="304.8" x2="161.2" y2="305.8" stroke="#1a1a1a" stroke-width="0.6" />
<line x1="167.46" y1="304.8" x2="167.46" y2="305.8" stroke="#1a1a1a" stroke-width="0.6" />
<line x1="29.7" y1="304.8" x2="29.7" y2="306.6" stroke="#1a1a1a" stroke-width="0.7" />
<text x="29.7" y="311.4" font-size="4.9" text-anchor="middle" font-weight="normal" fill="#333" >0</text>
<line x1="48.49" y1="304.8" x2="48.49" y2="306.6" stroke="#1a1a1a" stroke-width="0.7" />
<text x="48.49" y="311.4" font-size="4.9" text-anchor="middle" font-weight="normal" fill="#333" >3</text>
<line x1="67.27" y1="304.8" x2="67.27" y2="306.6" stroke="#1a1a1a" stroke-width="0.7" />
<text x="67.27" y="311.4" font-size="4.9" text-anchor="middle" font-weight="normal" fill="#333" >6</text>
<line x1="86.06" y1="304.8" x2="86.06" y2="306.6" stroke="#1a1a1a" stroke-width="0.7" />
<text x="86.06" y="311.4" font-size="4.9" text-anchor="middle" font-weight="normal" fill="#333" >9</text>
<line x1="104.84" y1="304.8" x2="104.84" y2="306.6" stroke="#1a1a1a" stroke-width="0.7" />
<text x="104.84" y="311.4" font-size="4.9" text-anchor="middle" font-weight="normal" fill="#333" >12</text>
<line x1="123.63" y1="304.8" x2="123.63" y2="306.6" stroke="#1a1a1a" stroke-width="0.7" />
<text x="123.63" y="311.4" font-size="4.9" text-anchor="middle" font-weight="normal" fill="#333" >15</text>
<line x1="142.42" y1="304.8" x2="142.42" y2="306.6" stroke="#1a1a1a" stroke-width="0.7" />
<text x="142.42" y="311.4" font-size="4.9" text-anchor="middle" font-weight="normal" fill="#333" >18</text>
<line x1="161.2" y1="304.8" x2="161.2" y2="306.6" stroke="#1a1a1a" stroke-width="0.7" />
<text x="161.2" y="311.4" font-size="4.9" text-anchor="middle" font-weight="normal" fill="#333" >21</text>
<text x="99" y="322.2" font-size="7.15" text-anchor="middle" font-weight="bold" fill="#000" stroke="#000" stroke-width="0.08">Days after engrafment</text>
<text transform="translate(16.6,232.2) rotate(-90)" font-size="7" text-anchor="middle" font-weight="bold" fill="#000" stroke="#000" stroke-width="0.15">Tumor volume (mm<tspan font-size="4.34" dy="-2.6">3</tspan><tspan dy="2.6">)</tspan></text>
<polyline points="48.49,296.53 73.53,289.64 92.32,259.88 117.37,241.41 136.15,226.81 161.2,191.25" fill="none" stroke="#40c0c0" stroke-width="0.6"/>
<polyline points="48.49,297.91 73.53,281.37 92.32,263.46 117.37,246.65 136.15,228.18 161.2,200.35" fill="none" stroke="#404040" stroke-width="0.6"/>
<polyline points="48.49,290.74 73.53,286.61 92.32,270.07 117.37,262.63 136.15,243.07 161.2,220.19" fill="none" stroke="#ff70c8" stroke-width="0.6"/>
<polyline points="48.49,294.88 73.53,286.06 92.32,270.63 117.37,257.67 136.15,257.12 161.2,248.85" fill="none" stroke="#c070e0" stroke-width="0.6"/>
<line x1="48.49" y1="292.4" x2="48.49" y2="300.67" stroke="#60c8c8" stroke-width="0.8" />
<line x1="46.69" y1="292.4" x2="50.29" y2="292.4" stroke="#60c8c8" stroke-width="0.8" />
<line x1="46.69" y1="300.67" x2="50.29" y2="300.67" stroke="#60c8c8" stroke-width="0.8" />
<line x1="73.53" y1="285.23" x2="73.53" y2="294.05" stroke="#60c8c8" stroke-width="0.8" />
<line x1="71.73" y1="285.23" x2="75.33" y2="285.23" stroke="#60c8c8" stroke-width="0.8" />
<line x1="71.73" y1="294.05" x2="75.33" y2="294.05" stroke="#60c8c8" stroke-width="0.8" />
<line x1="92.32" y1="257.12" x2="92.32" y2="262.63" stroke="#60c8c8" stroke-width="0.8" />
<line x1="90.52" y1="257.12" x2="94.12" y2="257.12" stroke="#60c8c8" stroke-width="0.8" />
<line x1="90.52" y1="262.63" x2="94.12" y2="262.63" stroke="#60c8c8" stroke-width="0.8" />
<line x1="117.37" y1="233.14" x2="117.37" y2="249.68" stroke="#60c8c8" stroke-width="0.8" />
<line x1="115.57" y1="233.14" x2="119.17" y2="233.14" stroke="#60c8c8" stroke-width="0.8" />
<line x1="115.57" y1="249.68" x2="119.17" y2="249.68" stroke="#60c8c8" stroke-width="0.8" />
<line x1="136.15" y1="219.92" x2="136.15" y2="233.7" stroke="#60c8c8" stroke-width="0.8" />
<line x1="134.35" y1="219.92" x2="137.95" y2="219.92" stroke="#60c8c8" stroke-width="0.8" />
<line x1="134.35" y1="233.7" x2="137.95" y2="233.7" stroke="#60c8c8" stroke-width="0.8" />
<line x1="161.2" y1="182.98" x2="161.2" y2="199.52" stroke="#60c8c8" stroke-width="0.8" />
<line x1="159.4" y1="182.98" x2="163" y2="182.98" stroke="#60c8c8" stroke-width="0.8" />
<line x1="159.4" y1="199.52" x2="163" y2="199.52" stroke="#60c8c8" stroke-width="0.8" />
<line x1="48.49" y1="293.78" x2="48.49" y2="302.04" stroke="#909090" stroke-width="0.8" />
<line x1="46.69" y1="293.78" x2="50.29" y2="293.78" stroke="#909090" stroke-width="0.8" />
<line x1="46.69" y1="302.04" x2="50.29" y2="302.04" stroke="#909090" stroke-width="0.8" />
<line x1="73.53" y1="275.86" x2="73.53" y2="286.89" stroke="#909090" stroke-width="0.8" />
<line x1="71.73" y1="275.86" x2="75.33" y2="275.86" stroke="#909090" stroke-width="0.8" />
<line x1="71.73" y1="286.89" x2="75.33" y2="286.89" stroke="#909090" stroke-width="0.8" />
<line x1="92.32" y1="259.33" x2="92.32" y2="267.59" stroke="#909090" stroke-width="0.8" />
<line x1="90.52" y1="259.33" x2="94.12" y2="259.33" stroke="#909090" stroke-width="0.8" />
<line x1="90.52" y1="267.59" x2="94.12" y2="267.59" stroke="#909090" stroke-width="0.8" />
<line x1="117.37" y1="241.14" x2="117.37" y2="252.16" stroke="#909090" stroke-width="0.8" />
<line x1="115.57" y1="241.14" x2="119.17" y2="241.14" stroke="#909090" stroke-width="0.8" />
<line x1="115.57" y1="252.16" x2="119.17" y2="252.16" stroke="#909090" stroke-width="0.8" />
<line x1="136.15" y1="222.67" x2="136.15" y2="233.7" stroke="#909090" stroke-width="0.8" />
<line x1="134.35" y1="222.67" x2="137.95" y2="222.67" stroke="#909090" stroke-width="0.8" />
<line x1="134.35" y1="233.7" x2="137.95" y2="233.7" stroke="#909090" stroke-width="0.8" />
<line x1="161.2" y1="191.53" x2="161.2" y2="209.17" stroke="#909090" stroke-width="0.8" />
<line x1="159.4" y1="191.53" x2="163" y2="191.53" stroke="#909090" stroke-width="0.8" />
<line x1="159.4" y1="209.17" x2="163" y2="209.17" stroke="#909090" stroke-width="0.8" />
<line x1="48.49" y1="286.89" x2="48.49" y2="294.6" stroke="#ff90d0" stroke-width="0.8" />
<line x1="46.69" y1="286.89" x2="50.29" y2="286.89" stroke="#ff90d0" stroke-width="0.8" />
<line x1="46.69" y1="294.6" x2="50.29" y2="294.6" stroke="#ff90d0" stroke-width="0.8" />
<line x1="73.53" y1="282.48" x2="73.53" y2="290.74" stroke="#ff90d0" stroke-width="0.8" />
<line x1="71.73" y1="282.48" x2="75.33" y2="282.48" stroke="#ff90d0" stroke-width="0.8" />
<line x1="71.73" y1="290.74" x2="75.33" y2="290.74" stroke="#ff90d0" stroke-width="0.8" />
<line x1="92.32" y1="266.77" x2="92.32" y2="273.38" stroke="#ff90d0" stroke-width="0.8" />
<line x1="90.52" y1="266.77" x2="94.12" y2="266.77" stroke="#ff90d0" stroke-width="0.8" />
<line x1="90.52" y1="273.38" x2="94.12" y2="273.38" stroke="#ff90d0" stroke-width="0.8" />
<line x1="117.37" y1="257.67" x2="117.37" y2="267.59" stroke="#ff90d0" stroke-width="0.8" />
<line x1="115.57" y1="257.67" x2="119.17" y2="257.67" stroke="#ff90d0" stroke-width="0.8" />
<line x1="115.57" y1="267.59" x2="119.17" y2="267.59" stroke="#ff90d0" stroke-width="0.8" />
<line x1="136.15" y1="237.55" x2="136.15" y2="248.58" stroke="#ff90d0" stroke-width="0.8" />
<line x1="134.35" y1="237.55" x2="137.95" y2="237.55" stroke="#ff90d0" stroke-width="0.8" />
<line x1="134.35" y1="248.58" x2="137.95" y2="248.58" stroke="#ff90d0" stroke-width="0.8" />
<line x1="161.2" y1="216.06" x2="161.2" y2="224.32" stroke="#ff90d0" stroke-width="0.8" />
<line x1="159.4" y1="216.06" x2="163" y2="216.06" stroke="#ff90d0" stroke-width="0.8" />
<line x1="159.4" y1="224.32" x2="163" y2="224.32" stroke="#ff90d0" stroke-width="0.8" />
<line x1="48.49" y1="290.74" x2="48.49" y2="299.01" stroke="#c090e0" stroke-width="0.8" />
<line x1="46.69" y1="290.74" x2="50.29" y2="290.74" stroke="#c090e0" stroke-width="0.8" />
<line x1="46.69" y1="299.01" x2="50.29" y2="299.01" stroke="#c090e0" stroke-width="0.8" />
<line x1="73.53" y1="281.93" x2="73.53" y2="290.19" stroke="#c090e0" stroke-width="0.8" />
<line x1="71.73" y1="281.93" x2="75.33" y2="281.93" stroke="#c090e0" stroke-width="0.8" />
<line x1="71.73" y1="290.19" x2="75.33" y2="290.19" stroke="#c090e0" stroke-width="0.8" />
<line x1="92.32" y1="266.49" x2="92.32" y2="274.76" stroke="#c090e0" stroke-width="0.8" />
<line x1="90.52" y1="266.49" x2="94.12" y2="266.49" stroke="#c090e0" stroke-width="0.8" />
<line x1="90.52" y1="274.76" x2="94.12" y2="274.76" stroke="#c090e0" stroke-width="0.8" />
<line x1="117.37" y1="250.78" x2="117.37" y2="264.56" stroke="#c090e0" stroke-width="0.8" />
<line x1="115.57" y1="250.78" x2="119.17" y2="250.78" stroke="#c090e0" stroke-width="0.8" />
<line x1="115.57" y1="264.56" x2="119.17" y2="264.56" stroke="#c090e0" stroke-width="0.8" />
<line x1="136.15" y1="248.3" x2="136.15" y2="265.94" stroke="#c090e0" stroke-width="0.8" />
<line x1="134.35" y1="248.3" x2="137.95" y2="248.3" stroke="#c090e0" stroke-width="0.8" />
<line x1="134.35" y1="265.94" x2="137.95" y2="265.94" stroke="#c090e0" stroke-width="0.8" />
<line x1="161.2" y1="241.96" x2="161.2" y2="255.74" stroke="#c090e0" stroke-width="0.8" />
<line x1="159.4" y1="241.96" x2="163" y2="241.96" stroke="#c090e0" stroke-width="0.8" />
<line x1="159.4" y1="255.74" x2="163" y2="255.74" stroke="#c090e0" stroke-width="0.8" />
<rect x="46.24" y="294.28" width="4.5" height="4.5" fill="#10908a"/>
<rect x="71.28" y="287.39" width="4.5" height="4.5" fill="#10908a"/>
<rect x="90.07" y="257.63" width="4.5" height="4.5" fill="#10908a"/>
<rect x="115.12" y="239.16" width="4.5" height="4.5" fill="#10908a"/>
<rect x="133.9" y="224.56" width="4.5" height="4.5" fill="#10908a"/>
<rect x="158.95" y="189" width="4.5" height="4.5" fill="#10908a"/>
<circle cx="48.49" cy="297.91" r="2.5" fill="#080808"/>
<circle cx="73.53" cy="281.37" r="2.5" fill="#080808"/>
<circle cx="92.32" cy="263.46" r="2.5" fill="#080808"/>
<circle cx="117.37" cy="246.65" r="2.5" fill="#080808"/>
<circle cx="136.15" cy="228.18" r="2.5" fill="#080808"/>
<circle cx="161.2" cy="200.35" r="2.5" fill="#080808"/>
<polygon points="48.49,288.24 50.99,290.74 48.49,293.24 45.99,290.74" fill="#ff10a0"/>
<polygon points="73.53,284.11 76.03,286.61 73.53,289.11 71.03,286.61" fill="#ff10a0"/>
<polygon points="92.32,267.57 94.82,270.07 92.32,272.57 89.82,270.07" fill="#ff10a0"/>
<polygon points="117.37,260.13 119.87,262.63 117.37,265.13 114.87,262.63" fill="#ff10a0"/>
<polygon points="136.15,240.57 138.65,243.07 136.15,245.57 133.65,243.07" fill="#ff10a0"/>
<polygon points="161.2,217.69 163.7,220.19 161.2,222.69 158.7,220.19" fill="#ff10a0"/>
<polygon points="48.49,292.32 50.94,296.97 46.04,296.97" fill="#8a10b0"/>
<polygon points="73.53,283.5 75.98,288.15 71.08,288.15" fill="#8a10b0"/>
<polygon points="92.32,268.07 94.77,272.72 89.87,272.72" fill="#8a10b0"/>
<polygon points="117.37,255.11 119.82,259.77 114.92,259.77" fill="#8a10b0"/>
<polygon points="136.15,254.56 138.6,259.22 133.7,259.22" fill="#8a10b0"/>
<polygon points="161.2,246.29 163.65,250.95 158.75,250.95" fill="#8a10b0"/>
<polygon points="65.7,8.19 68.1,12.75 63.3,12.75" fill="#cc00ee"/>
<text x="71" y="13" font-size="6.45" text-anchor="start" font-weight="normal" fill="#000" stroke="#000" stroke-width="0.12">PANC-1R + gem</text>
<circle cx="65.7" cy="21" r="2.4" fill="#ff8a10"/>
<text x="71" y="23.3" font-size="6.45" text-anchor="start" font-weight="normal" fill="#000" stroke="#000" stroke-width="0.12">PANC-1R</text>
<polygon points="65.7,28.79 68.1,33.35 63.3,33.35" fill="#1010ee"/>
<text x="71" y="33.6" font-size="6.45" text-anchor="start" font-weight="normal" fill="#000" stroke="#000" stroke-width="0.12">PANC-1 + gem</text>
<circle cx="65.7" cy="40.7" r="2.4" fill="#080808"/>
<text x="71" y="43" font-size="6.45" text-anchor="start" font-weight="normal" fill="#000" stroke="#000" stroke-width="0.12">PANC-1</text>
<polyline points="61.9,11.5 59.7,11.5 59.7,21.5 61.9,21.5" fill="none" stroke="#111" stroke-width="0.9"/>
<text transform="translate(56.3,16) rotate(-90)" x="0" y="0" font-size="6.2" text-anchor="middle" font-weight="bold" fill="#000" stroke="#000" stroke-width="0.25">ns</text>
<polyline points="52.5,10 50.3,10 50.3,31.5 52.5,31.5" fill="none" stroke="#111" stroke-width="0.9"/>
<circle cx="46" cy="15" r="1.0" fill="#000"/>
<circle cx="46" cy="18.9" r="1.0" fill="#000"/>
<circle cx="46" cy="22.9" r="1.0" fill="#000"/>
<circle cx="46" cy="26.8" r="1.0" fill="#000"/>
<polyline points="43.9,21.5 41.7,21.5 41.7,41.7 43.9,41.7" fill="none" stroke="#111" stroke-width="0.9"/>
<text transform="translate(38.3,31.4) rotate(-90)" x="0" y="0" font-size="6.2" text-anchor="middle" font-weight="bold" fill="#000" stroke="#000" stroke-width="0.25">ns</text>
<polyline points="61.9,31.5 59.7,31.5 59.7,41.5 61.9,41.5" fill="none" stroke="#111" stroke-width="0.9"/>
<circle cx="55" cy="32.7" r="1.0" fill="#000"/>
<circle cx="55" cy="36.8" r="1.0" fill="#000"/>
<circle cx="55" cy="40.8" r="1.0" fill="#000"/>
<polygon points="239.7,8.69 242.1,13.25 237.3,13.25" fill="#1010ee"/>
<text x="245" y="13.5" font-size="6.5" text-anchor="start" font-weight="normal" fill="#000" stroke="#000" stroke-width="0.12">PANC-1R + siRNA-ITGA2 + gem</text>
<polygon points="239.7,23.71 242.1,19.15 237.3,19.15" fill="#ff8a10"/>
<text x="245" y="23.5" font-size="6.5" text-anchor="start" font-weight="normal" fill="#000" stroke="#000" stroke-width="0.12">PANC-1R + siRNA-ITGA2</text>
<polygon points="239.7,28.1 242.1,30.5 239.7,32.9 237.3,30.5" fill="#cc00ee"/>
<text x="245" y="32.8" font-size="6.5" text-anchor="start" font-weight="normal" fill="#000" stroke="#000" stroke-width="0.12">PANC-1R + gem</text>
<circle cx="239.7" cy="39.8" r="2.4" fill="#080808"/>
<text x="245" y="42.1" font-size="6.5" text-anchor="start" font-weight="normal" fill="#000" stroke="#000" stroke-width="0.12">PANC-1R</text>
<polyline points="235.7,9.5 233.5,9.5 233.5,22 235.7,22" fill="none" stroke="#111" stroke-width="0.9"/>
<circle cx="230.5" cy="16.5" r="1.0" fill="#000"/>
<polyline points="229.2,9.5 227,9.5 227,30.2 229.2,30.2" fill="none" stroke="#111" stroke-width="0.9"/>
<circle cx="223.6" cy="20.5" r="1.0" fill="#000"/>
<polyline points="222.8,9.5 220.6,9.5 220.6,40.5 222.8,40.5" fill="none" stroke="#111" stroke-width="0.9"/>
<circle cx="216" cy="23" r="1.0" fill="#000"/>
<circle cx="216" cy="26.8" r="1.0" fill="#000"/>
<polygon points="64.5,170.1 66.9,172.5 64.5,174.9 62.1,172.5" fill="#ff10a0"/>
<text x="69.8" y="174.8" font-size="6.5" text-anchor="start" font-weight="normal" fill="#000" stroke="#000" stroke-width="0.12">MiaPaCa-2 + ITGA2 + gem</text>
<polygon points="64.5,179.79 66.9,184.35 62.1,184.35" fill="#8a10b0"/>
<text x="69.8" y="184.6" font-size="6.5" text-anchor="start" font-weight="normal" fill="#000" stroke="#000" stroke-width="0.12">MiaPaCa-2 + gem</text>
<rect x="62.1" y="190.3" width="4.8" height="4.8" fill="#10908a"/>
<text x="69.8" y="195" font-size="6.5" text-anchor="start" font-weight="normal" fill="#000" stroke="#000" stroke-width="0.12">MiaPaCa-2 + ITGA2</text>
<circle cx="64.5" cy="204" r="2.4" fill="#080808"/>
<text x="69.8" y="206.3" font-size="6.5" text-anchor="start" font-weight="normal" fill="#000" stroke="#000" stroke-width="0.12">MiaPaCa-2 NC</text>
<polyline points="60.7,171.5 58.5,171.5 58.5,181 60.7,181" fill="none" stroke="#111" stroke-width="0.9"/>
<circle cx="54" cy="170" r="1.0" fill="#000"/>
<circle cx="54" cy="174" r="1.0" fill="#000"/>
<circle cx="54" cy="177.9" r="1.0" fill="#000"/>
<circle cx="54" cy="181.8" r="1.0" fill="#000"/>
<polyline points="50.8,171.5 48.6,171.5 48.6,190.5 50.8,190.5" fill="none" stroke="#111" stroke-width="0.9"/>
<circle cx="44.2" cy="175.2" r="1.0" fill="#000"/>
<circle cx="44.2" cy="179.1" r="1.0" fill="#000"/>
<circle cx="44.2" cy="183.1" r="1.0" fill="#000"/>
<circle cx="44.2" cy="187" r="1.0" fill="#000"/>
<polyline points="41.7,182.5 39.5,182.5 39.5,206.2 41.7,206.2" fill="none" stroke="#111" stroke-width="0.9"/>
<circle cx="34.5" cy="188" r="1.0" fill="#000"/>
<circle cx="34.5" cy="192" r="1.0" fill="#000"/>
<circle cx="34.5" cy="196" r="1.0" fill="#000"/>
<circle cx="34.5" cy="200" r="1.0" fill="#000"/>
<polyline points="60.7,191.5 58.5,191.5 58.5,201 60.7,201" fill="none" stroke="#111" stroke-width="0.9"/>
<text transform="translate(53.6,196.2) rotate(-90)" x="0" y="0" font-size="6.2" text-anchor="middle" font-weight="bold" fill="#000" stroke="#000" stroke-width="0.25">ns</text>
<rect x="383.5" y="29.7" width="111" height="111.1" fill="none" stroke="#505050" stroke-width="0.9"/>
<line x1="383.5" y1="29.7" x2="383.5" y2="140.8" stroke="#1e1e1e" stroke-width="0.9" />
<line x1="383.5" y1="140.8" x2="494.5" y2="140.8" stroke="#3a3a3a" stroke-width="1.0" />
<line x1="382.5" y1="140.8" x2="383.5" y2="140.8" stroke="#222" stroke-width="0.6" />
<line x1="382.5" y1="137.1" x2="383.5" y2="137.1" stroke="#222" stroke-width="0.6" />
<line x1="382.5" y1="133.39" x2="383.5" y2="133.39" stroke="#222" stroke-width="0.6" />
<line x1="382.5" y1="129.69" x2="383.5" y2="129.69" stroke="#222" stroke-width="0.6" />
<line x1="382.5" y1="125.99" x2="383.5" y2="125.99" stroke="#222" stroke-width="0.6" />
<line x1="382.5" y1="122.29" x2="383.5" y2="122.29" stroke="#222" stroke-width="0.6" />
<line x1="382.5" y1="118.58" x2="383.5" y2="118.58" stroke="#222" stroke-width="0.6" />
<line x1="382.5" y1="114.88" x2="383.5" y2="114.88" stroke="#222" stroke-width="0.6" />
<line x1="382.5" y1="111.18" x2="383.5" y2="111.18" stroke="#222" stroke-width="0.6" />
<line x1="382.5" y1="107.47" x2="383.5" y2="107.47" stroke="#222" stroke-width="0.6" />
<line x1="382.5" y1="103.77" x2="383.5" y2="103.77" stroke="#222" stroke-width="0.6" />
<line x1="382.5" y1="100.07" x2="383.5" y2="100.07" stroke="#222" stroke-width="0.6" />
<line x1="382.5" y1="96.36" x2="383.5" y2="96.36" stroke="#222" stroke-width="0.6" />
<line x1="382.5" y1="92.66" x2="383.5" y2="92.66" stroke="#222" stroke-width="0.6" />
<line x1="382.5" y1="88.96" x2="383.5" y2="88.96" stroke="#222" stroke-width="0.6" />
<line x1="382.5" y1="85.26" x2="383.5" y2="85.26" stroke="#222" stroke-width="0.6" />
<line x1="382.5" y1="81.55" x2="383.5" y2="81.55" stroke="#222" stroke-width="0.6" />
<line x1="382.5" y1="77.85" x2="383.5" y2="77.85" stroke="#222" stroke-width="0.6" />
<line x1="382.5" y1="74.15" x2="383.5" y2="74.15" stroke="#222" stroke-width="0.6" />
<line x1="382.5" y1="70.44" x2="383.5" y2="70.44" stroke="#222" stroke-width="0.6" />
<line x1="382.5" y1="66.74" x2="383.5" y2="66.74" stroke="#222" stroke-width="0.6" />
<line x1="382.5" y1="63.04" x2="383.5" y2="63.04" stroke="#222" stroke-width="0.6" />
<line x1="382.5" y1="59.33" x2="383.5" y2="59.33" stroke="#222" stroke-width="0.6" />
<line x1="382.5" y1="55.63" x2="383.5" y2="55.63" stroke="#222" stroke-width="0.6" />
<line x1="382.5" y1="51.93" x2="383.5" y2="51.93" stroke="#222" stroke-width="0.6" />
<line x1="382.5" y1="48.23" x2="383.5" y2="48.23" stroke="#222" stroke-width="0.6" />
<line x1="382.5" y1="44.52" x2="383.5" y2="44.52" stroke="#222" stroke-width="0.6" />
<line x1="382.5" y1="40.82" x2="383.5" y2="40.82" stroke="#222" stroke-width="0.6" />
<line x1="382.5" y1="37.12" x2="383.5" y2="37.12" stroke="#222" stroke-width="0.6" />
<line x1="382.5" y1="33.41" x2="383.5" y2="33.41" stroke="#222" stroke-width="0.6" />
<line x1="382.5" y1="29.71" x2="383.5" y2="29.71" stroke="#222" stroke-width="0.6" />
<line x1="381.5" y1="140.8" x2="383.5" y2="140.8" stroke="#222" stroke-width="0.8" />
<text x="380.9" y="142.5" font-size="4.9" text-anchor="end" font-weight="bold" fill="#111" >0</text>
<line x1="381.5" y1="103.77" x2="383.5" y2="103.77" stroke="#222" stroke-width="0.8" />
<text x="380.9" y="105.47" font-size="4.9" text-anchor="end" font-weight="bold" fill="#111" >10</text>
<line x1="381.5" y1="66.74" x2="383.5" y2="66.74" stroke="#222" stroke-width="0.8" />
<text x="380.9" y="68.44" font-size="4.9" text-anchor="end" font-weight="bold" fill="#111" >20</text>
<line x1="381.5" y1="29.71" x2="383.5" y2="29.71" stroke="#222" stroke-width="0.8" />
<text x="380.9" y="31.41" font-size="4.9" text-anchor="end" font-weight="bold" fill="#111" >30</text>
<line x1="395.3" y1="140.8" x2="395.3" y2="142.6" stroke="#222" stroke-width="0.7" />
<text x="395.3" y="148.9" font-size="4.9" text-anchor="middle" font-weight="bold" fill="#111" >6</text>
<line x1="412.85" y1="140.8" x2="412.85" y2="142.6" stroke="#222" stroke-width="0.7" />
<text x="412.85" y="148.9" font-size="4.9" text-anchor="middle" font-weight="bold" fill="#111" >9</text>
<line x1="430.4" y1="140.8" x2="430.4" y2="142.6" stroke="#222" stroke-width="0.7" />
<text x="430.4" y="148.9" font-size="4.9" text-anchor="middle" font-weight="bold" fill="#111" >12</text>
<line x1="447.95" y1="140.8" x2="447.95" y2="142.6" stroke="#222" stroke-width="0.7" />
<text x="447.95" y="148.9" font-size="4.9" text-anchor="middle" font-weight="bold" fill="#111" >15</text>
<line x1="465.5" y1="140.8" x2="465.5" y2="142.6" stroke="#222" stroke-width="0.7" />
<text x="465.5" y="148.9" font-size="4.9" text-anchor="middle" font-weight="bold" fill="#111" >18</text>
<line x1="483.05" y1="140.8" x2="483.05" y2="142.6" stroke="#222" stroke-width="0.7" />
<text x="483.05" y="148.9" font-size="4.9" text-anchor="middle" font-weight="bold" fill="#111" >21</text>
<text x="439.2" y="158.2" font-size="6.75" text-anchor="middle" font-weight="bold" fill="#000" stroke="#000" stroke-width="0.15">Days after engrafment</text>
<text transform="translate(373,84.5) rotate(-90)" x="0" y="0" font-size="6.55" text-anchor="middle" font-weight="bold" fill="#000" stroke="#000" stroke-width="0.15">Body weight (g)</text>
<polyline points="395.3,59.33 412.85,58.22 430.4,53.04 447.95,53.78 465.5,52.67 483.05,47.85" fill="none" stroke="#f9a050" stroke-width="0.7" stroke-dasharray="1,1.2"/>
<polyline points="395.3,55.63 412.85,57.11 430.4,57.48 447.95,56 465.5,59.33 483.05,56.37" fill="none" stroke="#e870f0" stroke-width="0.7" stroke-dasharray="1,1.2"/>
<polyline points="395.3,54.52 412.85,57.85 430.4,57.48 447.95,56.37 465.5,54.52 483.05,52.67" fill="none" stroke="#f02a50" stroke-width="0.7" stroke-dasharray="1,1.2"/>
<polyline points="395.3,52.3 412.85,51.93 430.4,44.52 447.95,48.23 465.5,47.11 483.05,46.37" fill="none" stroke="#666666" stroke-width="0.7" stroke-dasharray="1,1.2"/>
<polyline points="395.3,47.85 412.85,46.74 430.4,44.52 447.95,46 465.5,41.93 483.05,42.3" fill="none" stroke="#16b850" stroke-width="0.7" stroke-dasharray="1,1.2"/>
<polyline points="395.3,50.08 412.85,48.6 430.4,46.74 447.95,45.26 465.5,45.26 483.05,44.52" fill="none" stroke="#2a44e6" stroke-width="0.7" stroke-dasharray="1,1.2"/>
<line x1="395.3" y1="57.48" x2="395.3" y2="61.19" stroke="#ffc080" stroke-width="0.8" />
<line x1="393.7" y1="57.48" x2="396.9" y2="57.48" stroke="#ffc080" stroke-width="0.8" />
<line x1="393.7" y1="61.19" x2="396.9" y2="61.19" stroke="#ffc080" stroke-width="0.8" />
<line x1="412.85" y1="56.74" x2="412.85" y2="59.7" stroke="#ffc080" stroke-width="0.8" />
<line x1="411.25" y1="56.74" x2="414.45" y2="56.74" stroke="#ffc080" stroke-width="0.8" />
<line x1="411.25" y1="59.7" x2="414.45" y2="59.7" stroke="#ffc080" stroke-width="0.8" />
<line x1="430.4" y1="51.56" x2="430.4" y2="54.52" stroke="#ffc080" stroke-width="0.8" />
<line x1="428.8" y1="51.56" x2="432" y2="51.56" stroke="#ffc080" stroke-width="0.8" />
<line x1="428.8" y1="54.52" x2="432" y2="54.52" stroke="#ffc080" stroke-width="0.8" />
<line x1="447.95" y1="51.93" x2="447.95" y2="55.63" stroke="#ffc080" stroke-width="0.8" />
<line x1="446.35" y1="51.93" x2="449.55" y2="51.93" stroke="#ffc080" stroke-width="0.8" />
<line x1="446.35" y1="55.63" x2="449.55" y2="55.63" stroke="#ffc080" stroke-width="0.8" />
<line x1="465.5" y1="50.45" x2="465.5" y2="54.89" stroke="#ffc080" stroke-width="0.8" />
<line x1="463.9" y1="50.45" x2="467.1" y2="50.45" stroke="#ffc080" stroke-width="0.8" />
<line x1="463.9" y1="54.89" x2="467.1" y2="54.89" stroke="#ffc080" stroke-width="0.8" />
<line x1="483.05" y1="46" x2="483.05" y2="49.71" stroke="#ffc080" stroke-width="0.8" />
<line x1="481.45" y1="46" x2="484.65" y2="46" stroke="#ffc080" stroke-width="0.8" />
<line x1="481.45" y1="49.71" x2="484.65" y2="49.71" stroke="#ffc080" stroke-width="0.8" />
<circle cx="395.3" cy="59.33" r="2.2" fill="#f9a050"/>
<circle cx="412.85" cy="58.22" r="2.2" fill="#f9a050"/>
<circle cx="430.4" cy="53.04" r="2.2" fill="#f9a050"/>
<circle cx="447.95" cy="53.78" r="2.2" fill="#f9a050"/>
<circle cx="465.5" cy="52.67" r="2.2" fill="#f9a050"/>
<circle cx="483.05" cy="47.85" r="2.2" fill="#f9a050"/>
<line x1="395.3" y1="54.15" x2="395.3" y2="57.11" stroke="#f0a0f8" stroke-width="0.8" />
<line x1="393.7" y1="54.15" x2="396.9" y2="54.15" stroke="#f0a0f8" stroke-width="0.8" />
<line x1="393.7" y1="57.11" x2="396.9" y2="57.11" stroke="#f0a0f8" stroke-width="0.8" />
<line x1="412.85" y1="55.26" x2="412.85" y2="58.96" stroke="#f0a0f8" stroke-width="0.8" />
<line x1="411.25" y1="55.26" x2="414.45" y2="55.26" stroke="#f0a0f8" stroke-width="0.8" />
<line x1="411.25" y1="58.96" x2="414.45" y2="58.96" stroke="#f0a0f8" stroke-width="0.8" />
<line x1="430.4" y1="55.63" x2="430.4" y2="59.33" stroke="#f0a0f8" stroke-width="0.8" />
<line x1="428.8" y1="55.63" x2="432" y2="55.63" stroke="#f0a0f8" stroke-width="0.8" />
<line x1="428.8" y1="59.33" x2="432" y2="59.33" stroke="#f0a0f8" stroke-width="0.8" />
<line x1="447.95" y1="54.15" x2="447.95" y2="57.85" stroke="#f0a0f8" stroke-width="0.8" />
<line x1="446.35" y1="54.15" x2="449.55" y2="54.15" stroke="#f0a0f8" stroke-width="0.8" />
<line x1="446.35" y1="57.85" x2="449.55" y2="57.85" stroke="#f0a0f8" stroke-width="0.8" />
<line x1="465.5" y1="57.11" x2="465.5" y2="61.56" stroke="#f0a0f8" stroke-width="0.8" />
<line x1="463.9" y1="57.11" x2="467.1" y2="57.11" stroke="#f0a0f8" stroke-width="0.8" />
<line x1="463.9" y1="61.56" x2="467.1" y2="61.56" stroke="#f0a0f8" stroke-width="0.8" />
<line x1="483.05" y1="54.15" x2="483.05" y2="58.59" stroke="#f0a0f8" stroke-width="0.8" />
<line x1="481.45" y1="54.15" x2="484.65" y2="54.15" stroke="#f0a0f8" stroke-width="0.8" />
<line x1="481.45" y1="58.59" x2="484.65" y2="58.59" stroke="#f0a0f8" stroke-width="0.8" />
<circle cx="395.3" cy="55.63" r="2.2" fill="#e870f0"/>
<circle cx="412.85" cy="57.11" r="2.2" fill="#e870f0"/>
<circle cx="430.4" cy="57.48" r="2.2" fill="#e870f0"/>
<circle cx="447.95" cy="56" r="2.2" fill="#e870f0"/>
<circle cx="465.5" cy="59.33" r="2.2" fill="#e870f0"/>
<circle cx="483.05" cy="56.37" r="2.2" fill="#e870f0"/>
<line x1="395.3" y1="52.67" x2="395.3" y2="56.37" stroke="#f07890" stroke-width="0.8" />
<line x1="393.7" y1="52.67" x2="396.9" y2="52.67" stroke="#f07890" stroke-width="0.8" />
<line x1="393.7" y1="56.37" x2="396.9" y2="56.37" stroke="#f07890" stroke-width="0.8" />
<line x1="412.85" y1="55.63" x2="412.85" y2="60.07" stroke="#f07890" stroke-width="0.8" />
<line x1="411.25" y1="55.63" x2="414.45" y2="55.63" stroke="#f07890" stroke-width="0.8" />
<line x1="411.25" y1="60.07" x2="414.45" y2="60.07" stroke="#f07890" stroke-width="0.8" />
<line x1="430.4" y1="55.63" x2="430.4" y2="59.33" stroke="#f07890" stroke-width="0.8" />
<line x1="428.8" y1="55.63" x2="432" y2="55.63" stroke="#f07890" stroke-width="0.8" />
<line x1="428.8" y1="59.33" x2="432" y2="59.33" stroke="#f07890" stroke-width="0.8" />
<line x1="447.95" y1="54.52" x2="447.95" y2="58.22" stroke="#f07890" stroke-width="0.8" />
<line x1="446.35" y1="54.52" x2="449.55" y2="54.52" stroke="#f07890" stroke-width="0.8" />
<line x1="446.35" y1="58.22" x2="449.55" y2="58.22" stroke="#f07890" stroke-width="0.8" />
<line x1="465.5" y1="52.67" x2="465.5" y2="56.37" stroke="#f07890" stroke-width="0.8" />
<line x1="463.9" y1="52.67" x2="467.1" y2="52.67" stroke="#f07890" stroke-width="0.8" />
<line x1="463.9" y1="56.37" x2="467.1" y2="56.37" stroke="#f07890" stroke-width="0.8" />
<line x1="483.05" y1="50.45" x2="483.05" y2="54.89" stroke="#f07890" stroke-width="0.8" />
<line x1="481.45" y1="50.45" x2="484.65" y2="50.45" stroke="#f07890" stroke-width="0.8" />
<line x1="481.45" y1="54.89" x2="484.65" y2="54.89" stroke="#f07890" stroke-width="0.8" />
<circle cx="395.3" cy="54.52" r="2.2" fill="#f02a50"/>
<circle cx="412.85" cy="57.85" r="2.2" fill="#f02a50"/>
<circle cx="430.4" cy="57.48" r="2.2" fill="#f02a50"/>
<circle cx="447.95" cy="56.37" r="2.2" fill="#f02a50"/>
<circle cx="465.5" cy="54.52" r="2.2" fill="#f02a50"/>
<circle cx="483.05" cy="52.67" r="2.2" fill="#f02a50"/>
<line x1="395.3" y1="50.45" x2="395.3" y2="54.15" stroke="#909090" stroke-width="0.8" />
<line x1="393.7" y1="50.45" x2="396.9" y2="50.45" stroke="#909090" stroke-width="0.8" />
<line x1="393.7" y1="54.15" x2="396.9" y2="54.15" stroke="#909090" stroke-width="0.8" />
<line x1="412.85" y1="50.08" x2="412.85" y2="53.78" stroke="#909090" stroke-width="0.8" />
<line x1="411.25" y1="50.08" x2="414.45" y2="50.08" stroke="#909090" stroke-width="0.8" />
<line x1="411.25" y1="53.78" x2="414.45" y2="53.78" stroke="#909090" stroke-width="0.8" />
<line x1="430.4" y1="39.71" x2="430.4" y2="49.34" stroke="#909090" stroke-width="0.8" />
<line x1="428.8" y1="39.71" x2="432" y2="39.71" stroke="#909090" stroke-width="0.8" />
<line x1="428.8" y1="49.34" x2="432" y2="49.34" stroke="#909090" stroke-width="0.8" />
<line x1="447.95" y1="46.37" x2="447.95" y2="50.08" stroke="#909090" stroke-width="0.8" />
<line x1="446.35" y1="46.37" x2="449.55" y2="46.37" stroke="#909090" stroke-width="0.8" />
<line x1="446.35" y1="50.08" x2="449.55" y2="50.08" stroke="#909090" stroke-width="0.8" />
<line x1="465.5" y1="45.26" x2="465.5" y2="48.97" stroke="#909090" stroke-width="0.8" />
<line x1="463.9" y1="45.26" x2="467.1" y2="45.26" stroke="#909090" stroke-width="0.8" />
<line x1="463.9" y1="48.97" x2="467.1" y2="48.97" stroke="#909090" stroke-width="0.8" />
<line x1="483.05" y1="44.52" x2="483.05" y2="48.23" stroke="#909090" stroke-width="0.8" />
<line x1="481.45" y1="44.52" x2="484.65" y2="44.52" stroke="#909090" stroke-width="0.8" />
<line x1="481.45" y1="48.23" x2="484.65" y2="48.23" stroke="#909090" stroke-width="0.8" />
<circle cx="395.3" cy="52.3" r="2.2" fill="#666666"/>
<circle cx="412.85" cy="51.93" r="2.2" fill="#666666"/>
<circle cx="430.4" cy="44.52" r="2.2" fill="#666666"/>
<circle cx="447.95" cy="48.23" r="2.2" fill="#666666"/>
<circle cx="465.5" cy="47.11" r="2.2" fill="#666666"/>
<circle cx="483.05" cy="46.37" r="2.2" fill="#666666"/>
<line x1="395.3" y1="46.37" x2="395.3" y2="49.34" stroke="#60d090" stroke-width="0.8" />
<line x1="393.7" y1="46.37" x2="396.9" y2="46.37" stroke="#60d090" stroke-width="0.8" />
<line x1="393.7" y1="49.34" x2="396.9" y2="49.34" stroke="#60d090" stroke-width="0.8" />
<line x1="412.85" y1="45.26" x2="412.85" y2="48.23" stroke="#60d090" stroke-width="0.8" />
<line x1="411.25" y1="45.26" x2="414.45" y2="45.26" stroke="#60d090" stroke-width="0.8" />
<line x1="411.25" y1="48.23" x2="414.45" y2="48.23" stroke="#60d090" stroke-width="0.8" />
<line x1="430.4" y1="42.67" x2="430.4" y2="46.37" stroke="#60d090" stroke-width="0.8" />
<line x1="428.8" y1="42.67" x2="432" y2="42.67" stroke="#60d090" stroke-width="0.8" />
<line x1="428.8" y1="46.37" x2="432" y2="46.37" stroke="#60d090" stroke-width="0.8" />
<line x1="447.95" y1="44.52" x2="447.95" y2="47.48" stroke="#60d090" stroke-width="0.8" />
<line x1="446.35" y1="44.52" x2="449.55" y2="44.52" stroke="#60d090" stroke-width="0.8" />
<line x1="446.35" y1="47.48" x2="449.55" y2="47.48" stroke="#60d090" stroke-width="0.8" />
<line x1="465.5" y1="40.08" x2="465.5" y2="43.78" stroke="#60d090" stroke-width="0.8" />
<line x1="463.9" y1="40.08" x2="467.1" y2="40.08" stroke="#60d090" stroke-width="0.8" />
<line x1="463.9" y1="43.78" x2="467.1" y2="43.78" stroke="#60d090" stroke-width="0.8" />
<line x1="483.05" y1="40.82" x2="483.05" y2="43.78" stroke="#60d090" stroke-width="0.8" />
<line x1="481.45" y1="40.82" x2="484.65" y2="40.82" stroke="#60d090" stroke-width="0.8" />
<line x1="481.45" y1="43.78" x2="484.65" y2="43.78" stroke="#60d090" stroke-width="0.8" />
<circle cx="395.3" cy="47.85" r="2.2" fill="#16b850"/>
<circle cx="412.85" cy="46.74" r="2.2" fill="#16b850"/>
<circle cx="430.4" cy="44.52" r="2.2" fill="#16b850"/>
<circle cx="447.95" cy="46" r="2.2" fill="#16b850"/>
<circle cx="465.5" cy="41.93" r="2.2" fill="#16b850"/>
<circle cx="483.05" cy="42.3" r="2.2" fill="#16b850"/>
<line x1="395.3" y1="48.23" x2="395.3" y2="51.93" stroke="#8080f0" stroke-width="0.8" />
<line x1="393.7" y1="48.23" x2="396.9" y2="48.23" stroke="#8080f0" stroke-width="0.8" />
<line x1="393.7" y1="51.93" x2="396.9" y2="51.93" stroke="#8080f0" stroke-width="0.8" />
<line x1="412.85" y1="46.74" x2="412.85" y2="50.45" stroke="#8080f0" stroke-width="0.8" />
<line x1="411.25" y1="46.74" x2="414.45" y2="46.74" stroke="#8080f0" stroke-width="0.8" />
<line x1="411.25" y1="50.45" x2="414.45" y2="50.45" stroke="#8080f0" stroke-width="0.8" />
<line x1="430.4" y1="44.52" x2="430.4" y2="48.97" stroke="#8080f0" stroke-width="0.8" />
<line x1="428.8" y1="44.52" x2="432" y2="44.52" stroke="#8080f0" stroke-width="0.8" />
<line x1="428.8" y1="48.97" x2="432" y2="48.97" stroke="#8080f0" stroke-width="0.8" />
<line x1="447.95" y1="43.41" x2="447.95" y2="47.11" stroke="#8080f0" stroke-width="0.8" />
<line x1="446.35" y1="43.41" x2="449.55" y2="43.41" stroke="#8080f0" stroke-width="0.8" />
<line x1="446.35" y1="47.11" x2="449.55" y2="47.11" stroke="#8080f0" stroke-width="0.8" />
<line x1="465.5" y1="43.41" x2="465.5" y2="47.11" stroke="#8080f0" stroke-width="0.8" />
<line x1="463.9" y1="43.41" x2="467.1" y2="43.41" stroke="#8080f0" stroke-width="0.8" />
<line x1="463.9" y1="47.11" x2="467.1" y2="47.11" stroke="#8080f0" stroke-width="0.8" />
<line x1="483.05" y1="42.67" x2="483.05" y2="46.37" stroke="#8080f0" stroke-width="0.8" />
<line x1="481.45" y1="42.67" x2="484.65" y2="42.67" stroke="#8080f0" stroke-width="0.8" />
<line x1="481.45" y1="46.37" x2="484.65" y2="46.37" stroke="#8080f0" stroke-width="0.8" />
<circle cx="395.3" cy="50.08" r="2.2" fill="#2a44e6"/>
<circle cx="412.85" cy="48.6" r="2.2" fill="#2a44e6"/>
<circle cx="430.4" cy="46.74" r="2.2" fill="#2a44e6"/>
<circle cx="447.95" cy="45.26" r="2.2" fill="#2a44e6"/>
<circle cx="465.5" cy="45.26" r="2.2" fill="#2a44e6"/>
<circle cx="483.05" cy="44.52" r="2.2" fill="#2a44e6"/>
<circle cx="502.3" cy="33.7" r="2.5" fill="#6464f4"/>
<text x="509.5" y="35.6" font-size="5.25" text-anchor="start" font-weight="normal" fill="#000" stroke="#000" stroke-width="0.12">PANC-1</text>
<circle cx="502.3" cy="42.3" r="2.5" fill="#f45a68"/>
<text x="509.5" y="44.2" font-size="5.25" text-anchor="start" font-weight="normal" fill="#000" stroke="#000" stroke-width="0.12">PANC-1 + gem</text>
<circle cx="502.3" cy="50.4" r="2.5" fill="#22c460"/>
<text x="509.5" y="52.3" font-size="5.25" text-anchor="start" font-weight="normal" fill="#000" stroke="#000" stroke-width="0.12">PANC-1R</text>
<circle cx="502.3" cy="58.8" r="2.5" fill="#e46ef4"/>
<text x="509.5" y="60.7" font-size="5.25" text-anchor="start" font-weight="normal" fill="#000" stroke="#000" stroke-width="0.12">PANC-1R + gem</text>
<circle cx="502.3" cy="70.4" r="2.5" fill="#ffa860"/>
<text x="509.5" y="69.3" font-size="5.25" text-anchor="start" font-weight="normal" fill="#000" stroke="#000" stroke-width="0.12">PANC-1R +</text>
<text x="509.5" y="75.3" font-size="5.25" text-anchor="start" font-weight="normal" fill="#000" stroke="#000" stroke-width="0.12">siRNA-ITGA2</text>
<circle cx="502.3" cy="85" r="2.5" fill="#5c5c5c"/>
<text x="509.5" y="83.9" font-size="5.25" text-anchor="start" font-weight="normal" fill="#000" stroke="#000" stroke-width="0.12">PANC-1R + gem</text>
<text x="509.5" y="89.9" font-size="5.25" text-anchor="start" font-weight="normal" fill="#000" stroke="#000" stroke-width="0.12">+ siRNA-ITGA2</text>
<defs>
<linearGradient id="bg" x1="0" y1="0" x2="1" y2="0.55">
<stop offset="0" stop-color="#a29aae"/>
<stop offset="0.22" stop-color="#c8c1d2"/>
<stop offset="0.5" stop-color="#dad4e2"/>
<stop offset="1" stop-color="#e4e0ea"/>
</linearGradient>
<linearGradient id="bg2" x1="0" y1="0" x2="0" y2="1">
<stop offset="0" stop-color="#fff" stop-opacity="0"/>
<stop offset="0.55" stop-color="#fff" stop-opacity="0.12"/>
<stop offset="1" stop-color="#fff" stop-opacity="0.25"/>
</linearGradient>
<linearGradient id="ruler" x1="0" y1="0" x2="0" y2="1">
<stop offset="0" stop-color="#7fb8e0"/>
<stop offset="0.35" stop-color="#6cb6ea"/>
<stop offset="0.45" stop-color="#2f9ae6"/>
<stop offset="1" stop-color="#2a96e2"/>
</linearGradient>
<radialGradient id="tum" cx="0.45" cy="0.4" r="0.6">
<stop offset="0" stop-color="#f2a988"/>
<stop offset="0.6" stop-color="#e58c6a"/>
<stop offset="1" stop-color="#c8704e"/>
</radialGradient>
</defs>
<rect x="246.8" y="210.6" width="198.1" height="92.9" fill="url(#bg)"/>
<rect x="246.8" y="210.6" width="198.1" height="92.9" fill="url(#bg2)"/>
<defs><linearGradient id="rs" x1="0" y1="0" x2="1" y2="0"><stop offset="0" stop-color="#8a8296" stop-opacity="0"/><stop offset="1" stop-color="#8a8296" stop-opacity="0.7"/></linearGradient><linearGradient id="rsv" x1="0" y1="0" x2="0" y2="1"><stop offset="0" stop-color="#fff"/><stop offset="0.55" stop-color="#fff"/><stop offset="1" stop-color="#000"/></linearGradient><mask id="rsm" maskUnits="userSpaceOnUse" x="430" y="205" width="20" height="80"><rect x="430" y="210.6" width="16" height="62" fill="url(#rsv)"/></mask></defs>
<rect x="436" y="210.6" width="8.9" height="62" fill="url(#rs)" mask="url(#rsm)"/>
<polygon points="246.8,288.6 444.9,285.0 444.9,303.5 246.8,303.5" fill="#2aa0e8"/>
<polygon points="246.8,288.6 444.9,285.0 444.9,289.5 246.8,293.1" fill="#4da8de"/>
<polygon points="246.8,292.20000000000005 444.9,288.6 444.9,291.4 246.8,295.0" fill="#8fd2f2" opacity="0.85"/>
<polyline points="246.8,288.6 444.9,285.0" fill="none" stroke="#5a6478" stroke-width="0.9"/>
<line x1="254" y1="289.07" x2="254" y2="295.57" stroke="#1a3f6e" stroke-width="0.55" />
<line x1="261.58" y1="288.93" x2="261.58" y2="291.93" stroke="#1a3f6e" stroke-width="0.55" />
<line x1="269.17" y1="288.79" x2="269.17" y2="295.29" stroke="#1a3f6e" stroke-width="0.55" />
<line x1="276.75" y1="288.66" x2="276.75" y2="291.66" stroke="#1a3f6e" stroke-width="0.55" />
<line x1="284.34" y1="288.52" x2="284.34" y2="295.02" stroke="#1a3f6e" stroke-width="0.55" />
<line x1="291.93" y1="288.38" x2="291.93" y2="291.38" stroke="#1a3f6e" stroke-width="0.55" />
<line x1="299.51" y1="288.24" x2="299.51" y2="294.74" stroke="#1a3f6e" stroke-width="0.55" />
<line x1="307.1" y1="288.1" x2="307.1" y2="291.1" stroke="#1a3f6e" stroke-width="0.55" />
<line x1="314.68" y1="287.97" x2="314.68" y2="294.47" stroke="#1a3f6e" stroke-width="0.55" />
<line x1="322.26" y1="287.83" x2="322.26" y2="290.83" stroke="#1a3f6e" stroke-width="0.55" />
<line x1="329.85" y1="287.69" x2="329.85" y2="294.19" stroke="#1a3f6e" stroke-width="0.55" />
<line x1="337.44" y1="287.55" x2="337.44" y2="290.55" stroke="#1a3f6e" stroke-width="0.55" />
<line x1="345.02" y1="287.42" x2="345.02" y2="293.92" stroke="#1a3f6e" stroke-width="0.55" />
<line x1="352.61" y1="287.28" x2="352.61" y2="290.28" stroke="#1a3f6e" stroke-width="0.55" />
<line x1="360.19" y1="287.14" x2="360.19" y2="293.64" stroke="#1a3f6e" stroke-width="0.55" />
<line x1="367.77" y1="287" x2="367.77" y2="290" stroke="#1a3f6e" stroke-width="0.55" />
<line x1="375.36" y1="286.86" x2="375.36" y2="293.36" stroke="#1a3f6e" stroke-width="0.55" />
<line x1="382.94" y1="286.73" x2="382.94" y2="289.73" stroke="#1a3f6e" stroke-width="0.55" />
<line x1="390.53" y1="286.59" x2="390.53" y2="293.09" stroke="#1a3f6e" stroke-width="0.55" />
<line x1="398.12" y1="286.45" x2="398.12" y2="289.45" stroke="#1a3f6e" stroke-width="0.55" />
<line x1="405.7" y1="286.31" x2="405.7" y2="292.81" stroke="#1a3f6e" stroke-width="0.55" />
<line x1="413.28" y1="286.17" x2="413.28" y2="289.17" stroke="#1a3f6e" stroke-width="0.55" />
<line x1="420.87" y1="286.04" x2="420.87" y2="292.54" stroke="#1a3f6e" stroke-width="0.55" />
<line x1="428.46" y1="285.9" x2="428.46" y2="288.9" stroke="#1a3f6e" stroke-width="0.55" />
<line x1="436.04" y1="285.76" x2="436.04" y2="292.26" stroke="#1a3f6e" stroke-width="0.55" />
<line x1="443.62" y1="285.62" x2="443.62" y2="288.62" stroke="#1a3f6e" stroke-width="0.55" />
<text x="254" y="299.77" font-size="5" text-anchor="middle" font-weight="normal" fill="#0b2a55" stroke="#0b2a55" stroke-width="0.15">0</text>
<text x="269.17" y="299.49" font-size="5" text-anchor="middle" font-weight="normal" fill="#0b2a55" stroke="#0b2a55" stroke-width="0.15">1</text>
<text x="284.34" y="299.22" font-size="5" text-anchor="middle" font-weight="normal" fill="#0b2a55" stroke="#0b2a55" stroke-width="0.15">2</text>
<text x="299.51" y="298.94" font-size="5" text-anchor="middle" font-weight="normal" fill="#0b2a55" stroke="#0b2a55" stroke-width="0.15">3</text>
<text x="314.68" y="298.67" font-size="5" text-anchor="middle" font-weight="normal" fill="#0b2a55" stroke="#0b2a55" stroke-width="0.15">4</text>
<text x="329.85" y="298.39" font-size="5" text-anchor="middle" font-weight="normal" fill="#0b2a55" stroke="#0b2a55" stroke-width="0.15">5</text>
<text x="345.02" y="298.12" font-size="5" text-anchor="middle" font-weight="normal" fill="#0b2a55" stroke="#0b2a55" stroke-width="0.15">6</text>
<text x="360.19" y="297.84" font-size="5" text-anchor="middle" font-weight="normal" fill="#0b2a55" stroke="#0b2a55" stroke-width="0.15">7</text>
<text x="375.36" y="297.56" font-size="5" text-anchor="middle" font-weight="normal" fill="#0b2a55" stroke="#0b2a55" stroke-width="0.15">8</text>
<text x="390.53" y="297.29" font-size="5" text-anchor="middle" font-weight="normal" fill="#0b2a55" stroke="#0b2a55" stroke-width="0.15">9</text>
<text x="405.7" y="297.01" font-size="5" text-anchor="middle" font-weight="normal" fill="#0b2a55" stroke="#0b2a55" stroke-width="0.15">10</text>
<text x="420.87" y="296.74" font-size="5" text-anchor="middle" font-weight="normal" fill="#0b2a55" stroke="#0b2a55" stroke-width="0.15">11</text>
<text x="436.04" y="296.46" font-size="5" text-anchor="middle" font-weight="normal" fill="#0b2a55" stroke="#0b2a55" stroke-width="0.15">12</text>
<polygon points="362.6,285.2 366.6,285.2 364.6,287.8" fill="#111"/>
<defs><radialGradient id="tum2" cx="0.42" cy="0.38" r="0.65">
<stop offset="0" stop-color="#e4a282"/>
<stop offset="0.5" stop-color="#d68a68"/>
<stop offset="0.85" stop-color="#c27252"/>
<stop offset="1" stop-color="#aa6448"/>
</radialGradient>
<filter id="tex" x="-10%" y="-10%" width="120%" height="120%">
<feTurbulence type="fractalNoise" baseFrequency="0.22" numOctaves="2" seed="7" result="n"/>
<feColorMatrix in="n" type="matrix" values="0 0 0 0 0.93  0 0 0 0 0.72  0 0 0 0 0.6  0 0 0 1.0 -0.5" result="m"/>
<feComposite in="m" in2="SourceGraphic" operator="in" result="t"/>
<feTurbulence type="fractalNoise" baseFrequency="0.35" numOctaves="2" seed="11" result="n2"/>
<feColorMatrix in="n2" type="matrix" values="0 0 0 0 0.68  0 0 0 0 0.36  0 0 0 0 0.24  0 0 0 1.4 -0.7" result="m2"/>
<feComposite in="m2" in2="SourceGraphic" operator="in" result="t2"/>
<feMerge><feMergeNode in="SourceGraphic"/><feMergeNode in="t2"/><feMergeNode in="t"/></feMerge>
</filter></defs>
<path d="M267,222.58 C267.49,222.46 268.06,222.39 268.61,222.41 C269.15,222.43 269.72,222.53 270.24,222.69 C270.76,222.85 271.34,223.07 271.73,223.37 C272.12,223.68 272.33,224.14 272.59,224.53 C272.85,224.92 273.27,225.3 273.29,225.71 C273.31,226.12 272.83,226.59 272.72,227 C272.61,227.41 272.72,227.77 272.62,228.16 C272.53,228.54 272.39,228.93 272.16,229.28 C271.92,229.63 271.56,229.93 271.22,230.24 C270.88,230.55 270.58,230.98 270.12,231.14 C269.66,231.3 268.99,231.13 268.47,231.2 C267.95,231.28 267.48,231.61 267,231.59 C266.52,231.56 266.03,231.24 265.58,231.07 C265.13,230.91 264.68,230.8 264.29,230.6 C263.9,230.4 263.5,230.17 263.25,229.88 C263,229.59 263.01,229.17 262.8,228.86 C262.59,228.55 262.22,228.34 261.99,228.03 C261.76,227.72 261.59,227.38 261.43,227 C261.26,226.62 260.98,226.17 261.02,225.77 C261.06,225.38 261.31,224.92 261.67,224.64 C262.02,224.35 262.74,224.28 263.16,224.06 C263.59,223.84 263.81,223.47 264.22,223.31 C264.63,223.15 265.17,223.22 265.64,223.1 C266.1,222.98 266.51,222.69 267,222.58Z" fill="url(#tum2)" filter="url(#tex)"/>
<path d="M293.8,220.34 C294.31,220.4 294.8,220.65 295.27,220.81 C295.75,220.96 296.15,221.11 296.65,221.25 C297.15,221.39 297.9,221.36 298.26,221.63 C298.63,221.9 298.66,222.47 298.85,222.87 C299.03,223.27 299.16,223.62 299.36,224.01 C299.57,224.4 300,224.78 300.09,225.2 C300.18,225.62 300.1,226.12 299.9,226.51 C299.7,226.9 299.15,227.17 298.89,227.55 C298.62,227.93 298.66,228.51 298.32,228.81 C297.97,229.12 297.3,229.18 296.81,229.37 C296.32,229.56 295.89,229.87 295.39,229.95 C294.89,230.03 294.34,229.83 293.8,229.86 C293.26,229.89 292.66,230.19 292.15,230.12 C291.64,230.05 291.22,229.65 290.74,229.44 C290.26,229.22 289.67,229.11 289.28,228.82 C288.89,228.53 288.58,228.1 288.4,227.69 C288.21,227.29 288.25,226.82 288.17,226.41 C288.08,225.99 287.87,225.6 287.88,225.2 C287.9,224.8 288.12,224.4 288.28,224.02 C288.43,223.63 288.53,223.22 288.79,222.89 C289.04,222.55 289.47,222.31 289.82,222.01 C290.16,221.72 290.46,221.38 290.86,221.13 C291.26,220.87 291.73,220.63 292.22,220.5 C292.71,220.37 293.29,220.29 293.8,220.34Z" fill="url(#tum2)" filter="url(#tex)"/>
<path d="M317.7,219.68 C318.26,219.69 318.84,219.22 319.37,219.27 C319.9,219.32 320.47,219.63 320.89,219.96 C321.31,220.29 321.57,220.83 321.89,221.25 C322.21,221.66 322.55,222.03 322.79,222.46 C323.03,222.89 323.2,223.37 323.34,223.84 C323.47,224.31 323.57,224.81 323.59,225.3 C323.61,225.79 323.58,226.3 323.48,226.8 C323.38,227.29 323.32,227.88 323,228.26 C322.69,228.63 321.97,228.71 321.58,229.05 C321.19,229.39 321.1,230.08 320.69,230.3 C320.27,230.51 319.6,230.21 319.1,230.35 C318.6,230.48 318.2,231 317.7,231.13 C317.2,231.25 316.56,231.29 316.09,231.11 C315.61,230.94 315.29,230.36 314.84,230.08 C314.4,229.81 313.73,229.8 313.4,229.46 C313.06,229.12 313.06,228.46 312.83,228.02 C312.59,227.57 312.13,227.23 311.99,226.78 C311.85,226.33 311.91,225.77 311.99,225.3 C312.08,224.83 312.31,224.38 312.49,223.95 C312.67,223.52 312.96,223.22 313.07,222.72 C313.19,222.21 312.94,221.38 313.19,220.94 C313.43,220.49 314.09,220.33 314.56,220.04 C315.03,219.75 315.49,219.27 316.01,219.21 C316.53,219.15 317.14,219.67 317.7,219.68Z" fill="url(#tum2)" filter="url(#tex)"/>
<path d="M260.9,241.79 C261.81,241.63 262.91,241.58 263.78,241.85 C264.65,242.12 265.36,242.91 266.11,243.41 C266.86,243.92 267.61,244.33 268.31,244.88 C269,245.43 269.69,246.01 270.28,246.69 C270.87,247.36 271.64,248.12 271.84,248.94 C272.04,249.76 271.49,250.71 271.48,251.6 C271.48,252.49 271.96,253.41 271.8,254.25 C271.64,255.09 270.98,255.84 270.53,256.65 C270.08,257.45 269.83,258.49 269.12,259.06 C268.42,259.64 267.17,259.61 266.31,260.1 C265.45,260.59 264.87,261.83 263.97,262.01 C263.07,262.19 261.86,261.4 260.9,261.19 C259.94,260.98 259.07,260.99 258.19,260.76 C257.32,260.54 256.49,260.2 255.66,259.84 C254.82,259.48 253.76,259.21 253.18,258.61 C252.6,258 252.67,256.91 252.16,256.18 C251.65,255.45 250.48,254.98 250.12,254.22 C249.77,253.46 249.97,252.45 250.05,251.6 C250.14,250.75 250.39,249.92 250.64,249.11 C250.89,248.29 251.05,247.39 251.53,246.69 C252.02,246 252.84,245.45 253.54,244.92 C254.23,244.38 254.93,243.83 255.73,243.47 C256.52,243.11 257.43,243.06 258.3,242.78 C259.16,242.5 259.99,241.94 260.9,241.79Z" fill="url(#tum2)" filter="url(#tex)"/>
<path d="M287.8,241.52 C288.72,241.38 289.83,241.02 290.68,241.28 C291.53,241.55 292.09,242.61 292.88,243.11 C293.66,243.6 294.35,243.88 295.37,244.24 C296.4,244.6 298.47,244.54 299.03,245.26 C299.58,245.98 298.9,247.57 298.7,248.58 C298.49,249.59 298.03,250.45 297.8,251.3 C297.56,252.15 297.45,252.86 297.29,253.67 C297.12,254.48 297.12,255.36 296.8,256.15 C296.49,256.93 296.06,257.83 295.42,258.4 C294.77,258.97 293.75,259.22 292.93,259.58 C292.1,259.94 291.32,260.38 290.46,260.56 C289.61,260.74 288.72,260.55 287.8,260.66 C286.88,260.76 285.77,261.45 284.95,261.21 C284.13,260.97 283.63,259.75 282.89,259.23 C282.15,258.7 281.24,258.58 280.52,258.08 C279.8,257.59 278.92,257 278.58,256.26 C278.23,255.52 278.64,254.46 278.46,253.63 C278.28,252.81 277.68,252.13 277.47,251.3 C277.27,250.47 277.04,249.49 277.22,248.66 C277.41,247.83 278.1,247.09 278.58,246.34 C279.07,245.59 279.44,244.67 280.15,244.17 C280.86,243.66 282.02,243.66 282.85,243.31 C283.69,242.97 284.33,242.41 285.16,242.11 C285.98,241.81 286.88,241.66 287.8,241.52Z" fill="url(#tum2)" filter="url(#tex)"/>
<path d="M320,241.13 C320.76,241.12 321.6,240.43 322.3,240.59 C323,240.74 323.59,241.57 324.2,242.05 C324.81,242.54 325.39,242.97 325.96,243.5 C326.53,244.03 327.21,244.54 327.64,245.22 C328.06,245.9 328.32,246.76 328.51,247.57 C328.71,248.39 328.88,249.28 328.8,250.1 C328.72,250.92 328.32,251.72 328.06,252.49 C327.81,253.27 327.6,254.02 327.27,254.74 C326.93,255.47 326.6,256.28 326.07,256.82 C325.54,257.36 324.77,257.66 324.11,257.98 C323.44,258.3 322.77,258.51 322.09,258.73 C321.4,258.96 320.69,259.33 320,259.31 C319.31,259.29 318.62,258.85 317.93,258.64 C317.24,258.43 316.56,258.31 315.85,258.05 C315.14,257.8 314.23,257.64 313.65,257.13 C313.08,256.61 312.71,255.73 312.39,254.96 C312.07,254.2 311.87,253.36 311.74,252.55 C311.61,251.74 311.55,250.9 311.6,250.1 C311.66,249.3 311.83,248.49 312.07,247.75 C312.31,247 312.66,246.31 313.02,245.64 C313.39,244.97 313.81,244.37 314.25,243.73 C314.69,243.1 315.1,242.33 315.68,241.82 C316.26,241.31 316.99,240.77 317.71,240.65 C318.43,240.54 319.24,241.14 320,241.13Z" fill="url(#tum2)" filter="url(#tex)"/>
<path d="M373.5,219.6 C374.18,219.6 374.9,219.36 375.55,219.47 C376.2,219.58 376.83,219.95 377.4,220.27 C377.98,220.6 378.56,220.97 379.02,221.42 C379.48,221.86 379.84,222.41 380.19,222.94 C380.54,223.48 380.97,224.03 381.11,224.62 C381.24,225.22 381.01,225.88 381,226.5 C380.99,227.12 381.23,227.79 381.05,228.36 C380.87,228.93 380.3,229.41 379.94,229.92 C379.57,230.44 379.29,230.97 378.86,231.44 C378.44,231.91 377.96,232.39 377.4,232.73 C376.85,233.06 376.17,233.34 375.52,233.44 C374.87,233.55 374.18,233.32 373.5,233.36 C372.82,233.4 372.05,233.8 371.41,233.68 C370.77,233.57 370.2,233.02 369.64,232.65 C369.09,232.29 368.47,231.98 368.07,231.51 C367.66,231.03 367.57,230.36 367.24,229.83 C366.91,229.3 366.3,228.88 366.11,228.32 C365.92,227.77 366.11,227.11 366.09,226.5 C366.07,225.89 365.84,225.23 365.98,224.64 C366.12,224.06 366.63,223.57 366.94,223.01 C367.26,222.46 367.44,221.77 367.89,221.33 C368.34,220.89 369.05,220.66 369.64,220.35 C370.24,220.04 370.81,219.58 371.45,219.46 C372.09,219.33 372.82,219.6 373.5,219.6Z" fill="url(#tum2)" filter="url(#tex)"/>
<path d="M398,219.5 C398.65,219.47 399.34,219.39 399.98,219.5 C400.62,219.6 401.24,219.89 401.84,220.15 C402.44,220.41 403.15,220.65 403.6,221.07 C404.05,221.49 404.18,222.16 404.53,222.68 C404.87,223.2 405.46,223.64 405.67,224.19 C405.88,224.74 405.83,225.41 405.78,226 C405.73,226.59 405.55,227.17 405.36,227.74 C405.18,228.3 404.99,228.88 404.67,229.39 C404.35,229.9 403.96,230.45 403.44,230.79 C402.93,231.13 402.17,231.22 401.57,231.44 C400.97,231.65 400.45,231.98 399.85,232.08 C399.26,232.18 398.64,232 398,232.06 C397.36,232.12 396.68,232.48 396.04,232.44 C395.4,232.41 394.71,232.15 394.16,231.85 C393.62,231.54 393.23,231.02 392.77,230.61 C392.3,230.19 391.77,229.83 391.38,229.36 C391,228.89 390.66,228.34 390.46,227.78 C390.26,227.22 390.08,226.57 390.17,226 C390.27,225.43 390.83,224.92 391.02,224.35 C391.21,223.79 391.05,223.12 391.32,222.61 C391.59,222.1 392.16,221.68 392.64,221.28 C393.11,220.88 393.61,220.45 394.19,220.19 C394.76,219.93 395.45,219.81 396.08,219.7 C396.72,219.58 397.35,219.53 398,219.5Z" fill="url(#tum2)" filter="url(#tex)"/>
<path d="M423,220.82 C423.67,220.77 424.38,220.61 425.04,220.71 C425.7,220.81 426.38,221.09 426.94,221.42 C427.5,221.75 428.08,222.17 428.39,222.69 C428.7,223.21 428.58,223.98 428.8,224.51 C429.02,225.05 429.42,225.4 429.71,225.9 C429.99,226.4 430.42,226.95 430.5,227.5 C430.58,228.05 430.45,228.71 430.19,229.22 C429.92,229.73 429.25,230.06 428.92,230.55 C428.58,231.03 428.55,231.68 428.18,232.12 C427.81,232.56 427.24,232.96 426.67,233.17 C426.11,233.39 425.39,233.26 424.77,233.41 C424.16,233.56 423.6,234.07 423,234.08 C422.4,234.09 421.76,233.71 421.2,233.48 C420.64,233.25 420.15,232.96 419.64,232.69 C419.13,232.41 418.65,232.14 418.16,231.82 C417.67,231.49 417.07,231.18 416.71,230.74 C416.35,230.3 416.21,229.71 416,229.17 C415.79,228.63 415.42,228.05 415.47,227.5 C415.52,226.95 416.07,226.42 416.32,225.9 C416.56,225.38 416.66,224.86 416.93,224.38 C417.2,223.89 417.56,223.44 417.93,222.98 C418.31,222.52 418.67,221.94 419.18,221.6 C419.7,221.27 420.41,221.11 421.04,220.98 C421.68,220.85 422.33,220.86 423,220.82Z" fill="url(#tum2)" filter="url(#tex)"/>
<path d="M367.3,236.87 C368.17,236.96 369.11,236.16 369.84,236.47 C370.57,236.78 371.02,238.11 371.67,238.71 C372.32,239.31 373.15,239.46 373.72,240.06 C374.29,240.67 374.7,241.52 375.09,242.32 C375.48,243.12 375.9,243.96 376.07,244.84 C376.25,245.72 376.06,246.65 376.15,247.6 C376.23,248.55 376.76,249.64 376.6,250.52 C376.44,251.41 375.69,252.22 375.17,252.93 C374.64,253.65 373.96,254.09 373.44,254.81 C372.92,255.53 372.69,256.78 372.05,257.25 C371.4,257.72 370.38,257.4 369.59,257.64 C368.8,257.87 368.08,258.61 367.3,258.67 C366.52,258.73 365.71,258.24 364.93,258 C364.14,257.76 363.34,257.58 362.57,257.22 C361.8,256.85 360.89,256.48 360.31,255.81 C359.73,255.13 359.38,254.08 359.08,253.17 C358.78,252.26 358.73,251.29 358.51,250.36 C358.3,249.43 357.84,248.53 357.81,247.6 C357.78,246.67 358.03,245.65 358.33,244.78 C358.62,243.91 359.22,243.22 359.59,242.38 C359.97,241.53 360.21,240.71 360.56,239.69 C360.92,238.67 361.05,236.9 361.73,236.27 C362.41,235.64 363.7,235.82 364.63,235.92 C365.56,236.02 366.43,236.78 367.3,236.87Z" fill="url(#tum2)" filter="url(#tex)"/>
<path d="M396,239.08 C397.02,238.96 398.18,238.73 399.17,238.96 C400.17,239.19 401.12,239.85 401.96,240.43 C402.81,241.02 403.44,241.8 404.25,242.46 C405.06,243.12 406.41,243.53 406.83,244.4 C407.26,245.27 406.69,246.66 406.81,247.68 C406.94,248.69 407.45,249.53 407.56,250.5 C407.68,251.47 407.74,252.55 407.5,253.5 C407.26,254.45 406.75,255.44 406.13,256.2 C405.51,256.96 404.48,257.37 403.77,258.07 C403.05,258.77 402.61,259.67 401.86,260.39 C401.11,261.11 400.25,262.05 399.27,262.39 C398.29,262.73 397.06,262.55 396,262.43 C394.94,262.3 393.87,262.07 392.93,261.67 C391.99,261.26 391.19,260.56 390.38,259.99 C389.56,259.42 388.87,258.84 388.06,258.24 C387.25,257.64 386.04,257.21 385.51,256.4 C384.99,255.59 385.22,254.38 384.91,253.4 C384.6,252.41 383.84,251.51 383.66,250.5 C383.48,249.49 383.52,248.31 383.82,247.32 C384.12,246.33 384.8,245.37 385.48,244.58 C386.15,243.79 387.13,243.32 387.86,242.56 C388.58,241.81 388.95,240.54 389.82,240.06 C390.68,239.58 391.99,239.84 393.02,239.68 C394.05,239.51 394.98,239.19 396,239.08Z" fill="url(#tum2)" filter="url(#tex)"/>
<path d="M428.6,240.29 C429.54,240.32 430.43,240.65 431.4,240.79 C432.37,240.93 433.58,240.73 434.42,241.13 C435.26,241.53 435.84,242.46 436.44,243.17 C437.04,243.87 437.53,244.6 438.01,245.36 C438.48,246.11 439.08,246.87 439.29,247.69 C439.5,248.52 439.23,249.42 439.28,250.3 C439.33,251.18 439.77,252.13 439.61,252.99 C439.46,253.84 438.9,254.7 438.35,255.42 C437.8,256.14 436.97,256.66 436.3,257.3 C435.62,257.95 435.09,258.78 434.31,259.29 C433.52,259.81 432.53,260.33 431.57,260.4 C430.62,260.47 429.57,259.78 428.6,259.72 C427.63,259.65 426.65,260.15 425.74,260 C424.84,259.86 424.09,259.2 423.18,258.85 C422.26,258.49 421.02,258.44 420.27,257.88 C419.53,257.32 419.03,256.34 418.72,255.49 C418.4,254.65 418.49,253.66 418.36,252.8 C418.24,251.93 417.95,251.13 417.97,250.3 C418,249.47 418.41,248.72 418.5,247.84 C418.59,246.95 418.1,245.75 418.52,245 C418.93,244.26 420.23,243.96 420.98,243.37 C421.72,242.77 422.2,241.92 422.99,241.46 C423.78,240.99 424.8,240.77 425.74,240.58 C426.67,240.38 427.66,240.25 428.6,240.29Z" fill="url(#tum2)" filter="url(#tex)"/>
<rect x="198" y="210.6" width="48.8" height="53.3" fill="#fff"/>
<rect x="444.9" y="210.6" width="54.1" height="53.3" fill="#fff"/>
<rect x="198" y="210.6" width="139.3" height="53.3" fill="none" stroke="#1a1a1a" stroke-width="0.9"/>
<line x1="198" y1="237.3" x2="337.3" y2="237.3" stroke="#1a1a1a" stroke-width="0.9" />
<rect x="356" y="210.6" width="143" height="53.3" fill="none" stroke="#1a1a1a" stroke-width="0.9"/>
<line x1="356" y1="237.3" x2="499" y2="237.3" stroke="#1a1a1a" stroke-width="0.9" />
<line x1="246.8" y1="210.6" x2="246.8" y2="263.9" stroke="#1a1a1a" stroke-width="0.5" />
<line x1="444.9" y1="210.6" x2="444.9" y2="263.9" stroke="#1a1a1a" stroke-width="0.5" />
<text x="222.6" y="225.8" font-size="6.3" text-anchor="middle" font-weight="bold" fill="#9b40d8" stroke="#9b3fd2" stroke-width="0.15" textLength="46.4" lengthAdjust="spacingAndGlyphs">MiaPaCa-2 + gem</text>
<text x="222.1" y="252.3" font-size="6.3" text-anchor="middle" font-weight="bold" fill="#111" stroke="#111" stroke-width="0.15" textLength="38.4" lengthAdjust="spacingAndGlyphs">MiaPaCa-2 NC</text>
<text x="472" y="221.7" font-size="6.3" text-anchor="middle" font-weight="bold" fill="#e61ee6" stroke="#e61ee6" stroke-width="0.15" textLength="51.5" lengthAdjust="spacingAndGlyphs">MiaPaCa-2 + ITGA2</text>
<text x="472" y="229.6" font-size="6.3" text-anchor="middle" font-weight="bold" fill="#e61ee6" stroke="#e61ee6" stroke-width="0.15">+ gem</text>
<text x="472" y="252" font-size="6.3" text-anchor="middle" font-weight="bold" fill="#12a0a0" stroke="#12a0a0" stroke-width="0.15" textLength="51.5" lengthAdjust="spacingAndGlyphs">MiaPaCa-2 + ITGA2</text>
</svg>
</body></html>
